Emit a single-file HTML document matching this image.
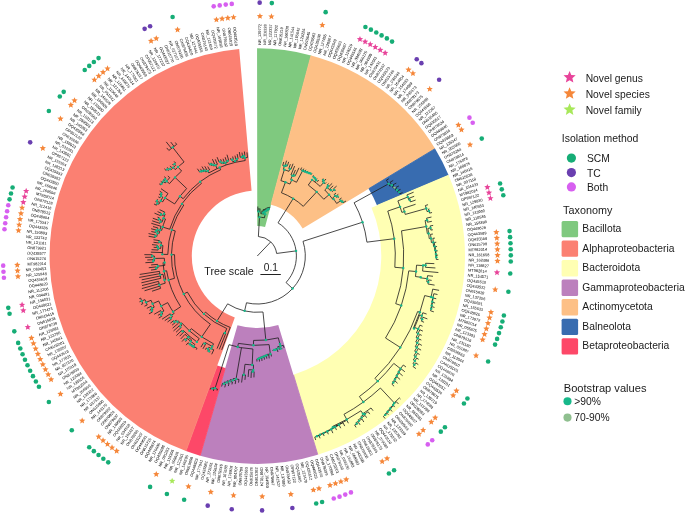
<!DOCTYPE html>
<html><head><meta charset="utf-8"><style>
html,body{margin:0;padding:0;background:#fff;}
body{width:685px;height:513px;overflow:hidden;position:relative;font-family:"Liberation Sans",Arial,sans-serif;}
svg{position:absolute;left:0;top:0;}
</style></head><body>
<svg width="685" height="513" viewBox="0 0 685 513" font-family="Liberation Sans, Arial, sans-serif">
<path d="M257.06 48.3A207.7 207.7 0 0 1 311.11 55.39L265.07 227.02A30 30 0 0 0 257.27 226Z" fill="#7fc97f"/>
<path d="M311.11 55.39A207.7 207.7 0 0 1 435.12 148.66L302.67 228.61A53 53 0 0 0 271.03 204.81Z" fill="#fdc086"/>
<path d="M435.12 148.66A207.7 207.7 0 0 1 448.64 175.21L377.06 205.43A130 130 0 0 0 368.6 188.82Z" fill="#386cb0"/>
<path d="M448.64 175.21A207.7 207.7 0 0 1 317.78 454.7L293.41 374.63A124 124 0 0 0 371.53 207.77Z" fill="#ffffb3"/>
<path d="M317.78 454.7A207.7 207.7 0 0 1 200.14 455.68L237.49 325.22A72 72 0 0 0 278.26 324.88Z" fill="#bc80bd"/>
<path d="M200.14 455.68A207.7 207.7 0 0 1 185.97 451.07L217.29 365.41A116.5 116.5 0 0 0 225.24 368Z" fill="#fd4868"/>
<path d="M185.97 451.07A207.7 207.7 0 0 1 239.19 49.09L251.59 190.75A65.5 65.5 0 0 0 234.81 317.52Z" fill="#fb8072"/>
<line x1="271.11" y1="204.52" x2="311.03" y2="55.68" stroke="#fdc086" stroke-width="0.9"/>
<line x1="368.85" y1="188.66" x2="434.86" y2="148.82" stroke="#386cb0" stroke-width="0.9"/>
<line x1="377.34" y1="205.32" x2="448.37" y2="175.32" stroke="#ffffb3" stroke-width="0.9"/>
<line x1="293.49" y1="374.91" x2="317.69" y2="454.41" stroke="#bc80bd" stroke-width="0.9"/>
<line x1="225.16" y1="368.29" x2="200.23" y2="455.39" stroke="#fd4868" stroke-width="0.9"/>
<line x1="217.19" y1="365.7" x2="186.07" y2="450.79" stroke="#fb8072" stroke-width="0.9"/>
<path fill="none" stroke="#1c1c1c" stroke-width="0.8" d="M257.3 256L270.75 241.88M258.39 236.53A19.5 19.5 0 0 1 276.63 253.45M258.39 236.53L259.47 217.16M258.39 217.12A38.9 38.9 0 0 1 264.46 217.76M258.39 217.12L258.54 211.52M257.78 211.5A44.5 44.5 0 0 1 259.91 211.58M257.78 211.5L257.84 206.5M258.85 211.53L258.97 208.03M259.91 211.58L260.09 208.58M264.46 217.76L265.12 214.23M260.81 213.64A42.5 42.5 0 0 1 265.12 214.23M260.81 213.64L260.99 211.47M262.81 213.86L262.94 212.87M261.93 212.75A43.5 43.5 0 0 1 263.96 213.01M261.93 212.75L262.17 210.42M263.96 213.01L264.11 212.02M263.09 211.88A44.5 44.5 0 0 1 265.13 212.19M263.09 211.88L263.46 209.02M265.13 212.19L265.3 211.21M264.3 211.04A45.5 45.5 0 0 1 266.31 211.4M264.3 211.04L264.63 208.87M266.31 211.4L266.5 210.42M265.55 210.24A46.5 46.5 0 0 1 267.46 210.62M265.55 210.24L265.95 208.01M267.46 210.62L267.67 209.65M266.84 209.47A47.5 47.5 0 0 1 268.5 209.84M266.84 209.47L267.32 207.14M268.5 209.84L268.74 208.87M268.18 208.74A48.5 48.5 0 0 1 269.3 209.01M268.18 208.74L268.57 207M269.3 209.01L269.86 206.81M276.63 253.45L296.07 250.9M278.02 222.84A39.1 39.1 0 0 1 286.04 282.52M278.02 222.84L293.18 198.59M281.45 192.75A67.7 67.7 0 0 1 303.3 206.33M281.45 192.75L285.48 182.2M280.92 180.62A79 79 0 0 1 289.94 184.06M280.92 180.62L284.33 169.74M283.32 169.43A90.4 90.4 0 0 1 288.96 171.32M283.32 169.43L284.36 165.98M282.74 165.51A94 94 0 0 1 285.97 166.48M282.74 165.51L283.74 161.93M285.97 166.48L286.26 165.57M285.17 165.23A94.95 94.95 0 0 1 287.34 165.92M285.17 165.23L286.58 160.66M287.34 165.92L288.7 161.82M288.96 171.32L289.87 168.89M288.82 168.51A93 93 0 0 1 290.91 169.28M288.82 168.51L290.38 164.19M290.91 169.28L293.06 163.73M289.94 184.06L291.79 179.96M290.71 179.47A83.5 83.5 0 0 1 296.49 182.27M290.71 179.47L292.39 175.62M290.94 175.01A87.7 87.7 0 0 1 293.82 176.27M290.94 175.01L294.63 166.12M293.82 176.27L294.2 175.44M293.23 175.01A88.61 88.61 0 0 1 295.16 175.89M293.23 175.01L295.48 169.95M295.16 175.89L298.97 167.83M296.49 182.27L302.6 170.79M300.61 169.76A96.5 96.5 0 0 1 304.56 171.86M300.61 169.76L301.73 167.53M304.56 171.86L304.76 171.52M302.85 170.47A96.9 96.9 0 0 1 306.64 172.6M302.85 170.47L303.84 168.62M306.64 172.6L306.84 172.26M305.08 171.24A97.3 97.3 0 0 1 308.58 173.31M305.08 171.24L305.91 169.76M308.58 173.31L308.8 172.97M307.3 172.06A97.7 97.7 0 0 1 310.28 173.91M307.3 172.06L307.96 170.95M310.28 173.91L310.49 173.57M309.5 172.94A98.1 98.1 0 0 1 311.48 174.22M309.5 172.94L309.98 172.18M311.48 174.22L311.97 173.47M303.3 206.33L316.68 191.87M308.3 185.02A87.4 87.4 0 0 1 323.76 199.24M308.3 185.02L312.04 179.83M312.04 179.83A93.8 93.8 0 0 1 320.17 186.39M314.8 181.89L316.15 180.15M314.55 178.94A96 96 0 0 1 317.72 181.4M314.55 178.94L315.05 178.25M313.65 177.23A96.85 96.85 0 0 1 316.44 179.3M313.65 177.23L313.74 177.11M312.79 176.44A97 97 0 0 1 314.68 177.79M312.79 176.44L313.57 175.32M314.68 177.79L315.15 177.14M316.44 179.3L317.02 178.55M317.72 181.4L318.73 180.15M320.17 186.39L323.66 182.53M322.33 181.35A99 99 0 0 1 324.97 183.74M322.33 181.35L323.31 180.23M322.4 179.44A100.49 100.49 0 0 1 324.21 181.02M322.4 179.44L323.18 178.52M324.21 181.02L326.03 178.98M324.97 183.74L326.16 182.46M323.76 199.24L329.08 194.69M324.75 189.95A94.4 94.4 0 0 1 332.99 199.58M324.75 189.95L327.32 187.43M326.81 186.91A98 98 0 0 1 330.42 190.75M326.81 186.91L327.99 185.74M327.15 184.9A99.67 99.67 0 0 1 328.83 186.59M327.15 184.9L328.53 183.49M328.83 186.59L332.16 183.35M330.42 190.75L331.16 190.1M329.96 188.79A98.98 98.98 0 0 1 332.33 191.44M329.96 188.79L333.23 185.76M332.33 191.44L334.17 189.85M333.37 188.94A101.41 101.41 0 0 1 334.95 190.78M333.37 188.94L336.62 186.08M334.95 190.78L335.57 190.26M332.99 199.58L333.63 199.11M332.7 197.88A95.2 95.2 0 0 1 336.67 203.43M332.7 197.88L335.31 195.86M334.22 194.47A98.5 98.5 0 0 1 336.38 197.27M334.22 194.47L336.01 193.04M336.38 197.27L337.53 196.41M336.81 195.46A99.94 99.94 0 0 1 338.24 197.38M336.81 195.46L338.32 194.31M338.24 197.38L338.89 196.91M336.67 203.43L340.67 200.78M339.67 199.3A100 100 0 0 1 341.65 202.29M339.67 199.3L341.56 197.99M341.65 202.29L342.45 201.78M341.8 200.76A100.95 100.95 0 0 1 343.09 202.8M341.8 200.76L342.53 200.28M343.09 202.8L345.99 201.01M286.04 282.52L292.58 288.55M303 241.33A48 48 0 0 1 246.5 302.77M303 241.33L362.51 222.22M354.13 202.77A110.5 110.5 0 0 1 366.93 242.15M354.13 202.77L388.57 183.83M386.46 180.13A149.8 149.8 0 0 1 389.84 186.19M386.46 180.13L388.79 178.76M389.84 186.19L391.79 185.17M390.16 182.17A152 152 0 0 1 393.34 188.2M390.16 182.17L393.22 180.47M393.34 188.2L394.51 187.62M393.04 184.76A153.3 153.3 0 0 1 395.91 190.51M393.04 184.76L396.32 183.05M395.91 190.51L396.99 190M395.78 187.5A154.5 154.5 0 0 1 398.15 192.51M395.78 187.5L398.92 185.95M398.15 192.51L399.07 192.1M398.29 190.41A155.5 155.5 0 0 1 399.82 193.8M398.29 190.41L400.56 189.36M399.82 193.8L402.57 192.6M366.93 242.15L394.21 238.7M387.78 211.07A138 138 0 0 1 394.84 267.31M387.78 211.07L400.07 206.84M397.89 200.9A151 151 0 0 1 401.86 212.36M397.89 200.9L407.76 197.04M406.91 194.93A161.6 161.6 0 0 1 409.01 200.33M406.91 194.93L413.61 192.19M409.01 200.33L409.78 200.05M409.1 198.23A162.42 162.42 0 0 1 410.44 201.88M409.1 198.23L414.18 196.3M410.44 201.88L415.65 200.04M401.86 212.36L404.44 211.58M403.4 208.27A153.7 153.7 0 0 1 405.27 214.42M403.4 208.27L415.57 204.29M405.27 214.42L426.26 208.53M425.38 205.5A175.5 175.5 0 0 1 427.08 211.57M425.38 205.5L428.02 204.71M427.08 211.57L429.06 211.05M428.51 209A177.54 177.54 0 0 1 429.59 213.11M428.51 209L429.28 208.79M429.59 213.11L432.04 212.5M394.84 267.31L403.21 268M401.52 230.83A146.4 146.4 0 0 1 395.72 303.66M401.52 230.83L426.25 226.51M425.1 220.57A171.5 171.5 0 0 1 427.34 233.68M425.1 220.57L427.06 220.15M426.62 218.12A173.5 173.5 0 0 1 427.47 222.19M426.62 218.12L431.46 217.04M427.47 222.19L431.84 221.32M427.34 233.68L428.63 233.51M427.89 228.43A172.8 172.8 0 0 1 429.22 238.61M427.89 228.43L430.55 227.99M430.2 225.92A175.5 175.5 0 0 1 430.87 230.07M430.2 225.92L433.16 225.41M430.87 230.07L432.85 229.77M429.22 238.61L431.01 238.43M430.55 234.34A174.6 174.6 0 0 1 431.38 242.52M430.55 234.34L432.93 234.04M431.38 242.52L433.27 242.38M432.91 238.3A176.5 176.5 0 0 1 433.54 246.46M432.91 238.3L434.9 238.1M433.54 246.46L434.64 246.4M434.38 242.42A177.6 177.6 0 0 1 434.81 250.38M434.38 242.42L436.27 242.28M434.81 250.38L435.41 250.36M435.25 246.63A178.2 178.2 0 0 1 435.49 254.09M435.25 246.63L437.05 246.54M435.49 254.09L435.89 254.09M435.83 250.88A178.6 178.6 0 0 1 435.9 257.29M435.83 250.88L437.73 250.83M435.9 257.29L436.3 257.29M436.3 255.15A179 179 0 0 1 436.27 259.43M436.3 255.15L438.1 255.14M436.27 259.43L438.47 259.48M395.72 303.66L401.21 305.55M408.77 270.85A152.2 152.2 0 0 1 385.52 338M408.77 270.85L416.04 271.56M416.54 265.18A159.5 159.5 0 0 1 415.47 276.54M416.54 265.18L423.02 265.56M423.05 265.14A166 166 0 0 1 422.61 271.08M423.05 265.14L425.54 265.28M425.64 263.26A168.5 168.5 0 0 1 425.42 267.29M425.64 263.26L434.29 263.64M425.42 267.29L435.4 267.96M422.61 271.08L438.36 272.52M415.47 276.54L420.73 277.23M420.73 277.23A164.8 164.8 0 0 1 420.65 277.83M420.65 277.83L427.19 278.7M427.57 275.65A171.4 171.4 0 0 1 426.76 281.75M427.57 275.65L433.01 276.28M426.76 281.75L428.29 281.98M428.59 279.93A172.95 172.95 0 0 1 427.97 284.02M428.59 279.93L431.66 280.36M427.97 284.02L434.59 285.11M385.52 338L400.26 347.43M417.66 311.53A169.7 169.7 0 0 1 374.97 378.28M417.66 311.53L419.83 312.28M424.69 295.57A172 172 0 0 1 413.44 328.15M424.69 295.57L431.01 297.06M432.7 289.13A178.5 178.5 0 0 1 430.98 297.22M432.7 289.13L439.09 290.33M430.98 297.22L432.92 297.68M433.81 293.73A180.5 180.5 0 0 1 431.94 301.61M433.81 293.73L437.47 294.52M431.94 301.61L432.33 301.71M433.25 298.04A180.9 180.9 0 0 1 431.33 305.37M433.25 298.04L436.24 298.75M431.33 305.37L431.72 305.48M432.58 302.34A181.3 181.3 0 0 1 430.8 308.6M432.58 302.34L435.1 303.01M430.8 308.6L431.19 308.71M431.8 306.63A181.7 181.7 0 0 1 430.54 310.79M431.8 306.63L434.51 307.41M430.54 310.79L433.84 311.83M413.44 328.15L414.07 328.44M419.64 314.92A172.7 172.7 0 0 1 414.07 328.44M419.64 314.92L421.8 315.71M422.84 312.75A175 175 0 0 1 420.7 318.65M422.84 312.75L426.62 314.04M420.7 318.65L422.17 319.21M422.91 317.24A176.57 176.57 0 0 1 421.4 321.18M422.91 317.24L427.38 318.89M421.4 321.18L424.06 322.24M414.57 327.35L418.22 329M419.91 325.14A176.7 176.7 0 0 1 416.43 332.82M419.91 325.14L422.55 326.26M416.43 332.82L418.05 333.61M419.85 329.75A178.5 178.5 0 0 1 416.15 337.41M419.85 329.75L422.86 331.12M416.15 337.41L417.75 338.23M419.66 334.4A180.3 180.3 0 0 1 415.76 342.02M419.66 334.4L421.71 335.39M415.76 342.02L417.34 342.88M419.34 339.09A182.1 182.1 0 0 1 415.25 346.62M419.34 339.09L421.33 340.1M415.25 346.62L416.81 347.52M418.89 343.8A183.9 183.9 0 0 1 414.65 351.19M418.89 343.8L421.84 345.4M414.65 351.19L416.19 352.12M418.3 348.54A185.7 185.7 0 0 1 413.99 355.66M418.3 348.54L421.1 350.14M413.99 355.66L415.51 356.63M417.58 353.3A187.5 187.5 0 0 1 413.37 359.92M417.58 353.3L419.61 354.53M413.37 359.92L414.87 360.92M416.72 358.07A189.3 189.3 0 0 1 412.96 363.73M416.72 358.07L418.65 359.31M412.96 363.73L414.44 364.75M415.73 362.86A191.1 191.1 0 0 1 413.13 366.62M415.73 362.86L418.3 364.6M413.13 366.62L415.91 368.6M374.97 378.28L377.74 381.16M393.8 363.42A173.7 173.7 0 0 1 359.4 396.53M393.8 363.42L400.48 368.67M403.3 365A182.2 182.2 0 0 1 398.09 371.65M403.3 365L405.94 366.97M398.09 371.65L398.79 372.22M401.36 369.01A183.1 183.1 0 0 1 396.15 375.36M401.36 369.01L404.84 371.75M396.15 375.36L396.83 375.95M399.31 373A184 184 0 0 1 394.29 378.84M399.31 373L402.65 375.75M394.29 378.84L394.96 379.44M397.15 376.95A184.9 184.9 0 0 1 392.72 381.89M397.15 376.95L400.11 379.51M392.72 381.89L393.38 382.51M394.88 380.87A185.8 185.8 0 0 1 391.86 384.12M394.88 380.87L397.57 383.31M391.86 384.12L394.14 386.3M359.4 396.53L363.4 402.03M380.4 388.01A180.5 180.5 0 0 1 343.98 414.32M380.4 388.01L394.25 402.86M399.37 397.91A200.8 200.8 0 0 1 392.64 404.34M399.37 397.91L400.47 399.01M392.64 404.34L393.18 404.93M396.48 401.85A201.6 201.6 0 0 1 389.8 407.94M396.48 401.85L398.51 403.98M389.8 407.94L390.33 408.54M393.49 405.73A202.4 202.4 0 0 1 387.1 411.29M393.49 405.73L394.74 407.1M387.1 411.29L387.62 411.91M390.39 409.55A203.2 203.2 0 0 1 384.8 414.22M390.39 409.55L392.07 411.48M384.8 414.22L385.3 414.84M387.19 413.3A204 204 0 0 1 383.39 416.36M387.19 413.3L388.39 414.76M383.39 416.36L385.08 418.52M343.98 414.32L346.77 419.41M360.94 410.81A186.3 186.3 0 0 1 332.48 426.46M360.94 410.81L362.88 413.72M371.01 407.97A189.8 189.8 0 0 1 362.88 413.72M371.01 407.97L373.05 410.68M363.85 413.07L364.58 414.15M368.1 411.7A191.1 191.1 0 0 1 361 416.51M368.1 411.7L369.8 414.1M361 416.51L361.71 417.61M365.07 415.39A192.4 192.4 0 0 1 358.3 419.76M365.07 415.39L366.62 417.67M358.3 419.76L358.98 420.86M361.93 419.01A193.7 193.7 0 0 1 356.01 422.66M361.93 419.01L363.86 422.03M356.01 422.66L356.67 423.78M358.67 422.58A195 195 0 0 1 354.66 424.96M358.67 422.58L360.03 424.8M354.66 424.96L356.08 427.42M332.48 426.46L332.8 427.19M346.81 420.3A187.1 187.1 0 0 1 332.8 427.19M346.81 420.3L348.41 423.23M338.88 424.38L339.05 424.74M343.04 422.75A187.5 187.5 0 0 1 335.02 426.63M343.04 422.75L344.76 426.11M335.02 426.63L335.19 427M339.2 425.11A187.9 187.9 0 0 1 331.14 428.78M339.2 425.11L340.69 428.19M331.14 428.78L331.3 429.15M335.29 427.39A188.3 188.3 0 0 1 327.27 430.82M335.29 427.39L336.5 430.05M327.27 430.82L327.41 431.19M331.33 429.57A188.7 188.7 0 0 1 323.47 432.72M331.33 429.57L332.85 433.14M323.47 432.72L323.61 433.09M327.3 431.67A189.1 189.1 0 0 1 319.89 434.44M327.3 431.67L328.34 434.27M319.89 434.44L320.02 434.82M323.22 433.67A189.5 189.5 0 0 1 316.8 435.92M323.22 433.67L324.1 436.03M316.8 435.92L316.92 436.3M319.08 435.57A189.9 189.9 0 0 1 314.76 437M319.08 435.57L320.02 438.32M314.76 437L315.72 440.02M246.5 302.77L244.64 310.86M262.99 312.01A56.3 56.3 0 0 1 227.63 303.85M262.99 312.01L265.84 340.07M278.31 337.85A84.5 84.5 0 0 1 253.61 340.42M278.31 337.85L279.86 343.85M279.92 343.83A90.7 90.7 0 0 1 279.86 343.85M279.92 343.83L280.5 346.06M283.31 345.29A93 93 0 0 1 277.66 346.74M283.31 345.29L284.05 347.81M277.66 346.74L278.03 348.41M280.51 347.81A94.7 94.7 0 0 1 275.54 348.93M280.51 347.81L280.71 348.59M281.81 348.3A95.5 95.5 0 0 1 279.6 348.86M281.81 348.3L282.02 349.07M279.6 348.86L279.78 349.64M275.54 348.93L275.69 349.71M277.37 349.37A95.5 95.5 0 0 1 274 350.03M277.37 349.37L277.93 352M274 350.03L274 350.03M275.13 349.82A95.5 95.5 0 0 1 272.88 350.22M275.13 349.82L275.28 350.61M272.88 350.22L273.01 351.01M253.61 340.42L253.4 345.31M269.12 344.61A89.4 89.4 0 0 1 238.41 343.38M269.12 344.61L270.38 354.03M271.09 353.93A98.9 98.9 0 0 1 266.47 354.47M271.09 353.93L271.45 356.46M266.47 354.47L266.54 355.27M268.84 355.03A99.7 99.7 0 0 1 264.24 355.46M268.84 355.03L269.23 358.4M264.24 355.46L264.29 356.26M266.54 356.07A100.5 100.5 0 0 1 262.04 356.39M266.54 356.07L266.78 358.68M262.04 356.39L262.08 357.19M264.2 357.06A101.3 101.3 0 0 1 259.96 357.27M264.2 357.06L264.38 359.66M259.96 357.27L259.98 358.06M261.81 358A102.1 102.1 0 0 1 258.15 358.1M261.81 358L261.95 360.96M258.15 358.1L258.16 358.9M259.39 358.88A102.9 102.9 0 0 1 256.93 358.9M259.39 358.88L259.44 361.58M256.93 358.9L256.92 361.51M238.41 343.38L237.63 347M252.91 349A93.1 93.1 0 0 1 228.99 344.69M252.91 349L252.17 364.88M253.5 364.93A109 109 0 0 1 244.96 364.3M253.5 364.93L253.32 369.93M253.32 369.93A114 114 0 0 1 248.71 369.68M252.8 369.91L252.73 371.64M254.11 371.68A115.73 115.73 0 0 1 251.34 371.58M254.11 371.68L253.95 377.4M251.34 371.58L251.02 377.94M248.71 369.68L248.16 376.97M244.96 364.3L243.77 374.73M245.45 374.91A119.5 119.5 0 0 1 242.61 374.59M245.45 374.91L244.95 379.89M242.61 374.59L241.62 382.53M241.45 347.74L236.06 378.98M239 379.45A124.8 124.8 0 0 1 233.3 378.47M239 379.45L238.53 382.61M233.3 378.47L232.95 380.24M235.74 380.75A126.6 126.6 0 0 1 230.17 379.66M235.74 380.75L235.17 384.07M230.17 379.66L229.78 381.42M232.42 381.97A128.4 128.4 0 0 1 227.16 380.81M232.42 381.97L231.93 384.45M227.16 380.81L226.74 382.56M229.02 383.09A130.2 130.2 0 0 1 224.48 381.99M229.02 383.09L228.36 386.05M224.48 381.99L224.02 383.74M225.55 384.13A132 132 0 0 1 222.5 383.33M225.55 384.13L224.75 387.38M222.5 383.33L221.62 386.52M228.99 344.69L215.07 388.32M217.48 389.07A138.9 138.9 0 0 1 212.73 387.56M217.48 389.07L217.02 390.6M212.73 387.56L212.38 388.6M213.97 389.13A140 140 0 0 1 210.8 388.05M213.97 389.13L213.35 391.03M210.8 388.05L210.3 389.47M227.63 303.85L217.04 320.93M230.21 327.43A76.4 76.4 0 0 1 205.49 312.15M230.21 327.43L221.69 349.87M205.49 312.15L203.93 313.84M226.77 328.54A78.7 78.7 0 0 1 187.37 292.1M226.77 328.54L224.87 333.05M225.79 333.43A83.6 83.6 0 0 1 223.95 332.66M225.79 333.43L219.31 349.37M223.95 332.66L217.01 348.61M187.37 292.1L183.72 293.98M210.4 324.24A82.8 82.8 0 0 1 174.51 254.7M210.4 324.24L201.74 336.85M213.53 343.79A98.1 98.1 0 0 1 191.4 328.67M213.53 343.79L212.23 346.39M212.35 346.45A101 101 0 0 1 205.2 342.53M212.35 346.45L211.28 348.6M213.79 349.81A103.41 103.41 0 0 1 208.8 347.33M213.79 349.81L211.7 354.3M208.8 347.33L207.93 348.97M209.61 349.84A105.27 105.27 0 0 1 206.27 348.07M209.61 349.84L208.95 351.13M210.09 351.7A106.71 106.71 0 0 1 207.82 350.55M210.09 351.7L209.74 352.42M207.82 350.55L207.45 351.26M206.27 348.07L205.42 349.61M205.2 342.53L204.56 343.59M205.61 344.21A102.24 102.24 0 0 1 203.52 342.95M205.61 344.21L202.91 348.82M203.52 342.95L200.93 347.13M191.4 328.67L189.46 330.82M199.22 338.63A101 101 0 0 1 181.66 322.92M199.22 338.63L196.92 341.91M196.92 341.91A105 105 0 0 1 183.36 330.55M189.35 336.05L188.35 337.23M191.77 340.02A106.55 106.55 0 0 1 185.03 334.3M191.77 340.02L190.72 341.37M194.81 344.42A108.27 108.27 0 0 1 186.77 338.14M194.81 344.42L193.61 346.11M197.03 348.43A110.34 110.34 0 0 1 190.29 343.67M197.03 348.43L196.23 349.65M190.29 343.67L189.89 344.19M191.75 345.58A111 111 0 0 1 188.06 342.76M191.75 345.58L191.75 345.58M193.37 346.74A111 111 0 0 1 190.16 344.39M193.37 346.74L193.37 346.74M194.46 347.5A111 111 0 0 1 192.29 345.97M194.46 347.5L194.01 348.16M192.29 345.97L191.82 346.62M190.16 344.39L189.67 345.03M188.06 342.76L186.17 345.12M186.77 338.14L185.52 339.6M186.52 340.46A110.19 110.19 0 0 1 184.52 338.74M186.52 340.46L185.55 341.62M184.52 338.74L182.03 341.57M185.03 334.3L180.78 338.91M183.36 330.55L182.56 331.36M183.47 332.25A106.14 106.14 0 0 1 181.67 330.46M183.47 332.25L179.63 336.21M181.67 330.46L176.4 335.65M181.66 322.92L180.76 323.72M181.95 325.04A102.2 102.2 0 0 1 178.34 320.89M181.95 325.04L180.25 326.59M181.1 327.51A104.5 104.5 0 0 1 179.41 325.66M181.1 327.51L176.05 332.25M179.41 325.66L173.51 330.94M178.34 320.89L177.31 321.73M178.5 323.16A103.54 103.54 0 0 1 176.14 320.29M178.5 323.16L172.63 328.16M176.14 320.29L174.32 321.73M175.11 322.72A105.86 105.86 0 0 1 173.54 320.73M175.11 322.72L172.13 325.14M173.54 320.73L170.4 323.16M174.51 254.7L171.51 254.65M174.46 278.35A85.8 85.8 0 0 1 175.25 230.91M174.46 278.35L168.57 279.94M180.67 306.72A91.9 91.9 0 0 1 166.6 270.77M180.67 306.72L173.08 311.75M174.18 313.37A101 101 0 0 1 167.71 302.64M174.18 313.37L171.3 315.36M172.38 316.89A104.5 104.5 0 0 1 170.24 313.81M172.38 316.89L170.59 318.17M171.34 319.21A106.7 106.7 0 0 1 169.85 317.13M171.34 319.21L167.51 322.02M169.85 317.13L164.78 320.68M170.24 313.81L162.06 319.24M167.71 302.64L161.15 306.06M163.9 311.02A108.4 108.4 0 0 1 158.66 300.96M163.9 311.02L161.66 312.34M162.69 314.04A111 111 0 0 1 160.66 310.61M162.69 314.04L161.1 315.02M161.81 316.17A112.86 112.86 0 0 1 160.4 313.86M161.81 316.17L158.75 318.09M160.4 313.86L157.91 315.35M160.66 310.61L154.2 314.27M158.66 300.96L152.57 303.74M154.19 307.16A115.1 115.1 0 0 1 151.05 300.27M154.19 307.16L152.04 308.22M153 310.1A117.5 117.5 0 0 1 151.12 306.33M153 310.1L151.8 310.72M152.47 311.98A118.84 118.84 0 0 1 151.16 309.46M152.47 311.98L148.96 313.85M151.16 309.46L149.58 310.25M151.12 306.33L146.86 308.34M151.05 300.27L146.07 302.34M147.21 304.99A120.5 120.5 0 0 1 144.99 299.67M147.21 304.99L144.47 306.21M144.99 299.67L141.73 300.94M142.84 303.69A124 124 0 0 1 140.69 298.16M142.84 303.69L140.99 304.46M141.73 300.94L139.4 301.84M140.69 298.16L139.28 298.67M166.6 270.77L164.03 271.19M165.81 279.66A94.5 94.5 0 0 1 163.03 262.59M165.81 279.66L164.36 280.04M165.23 283.18A96 96 0 0 1 163.05 274.26M165.23 283.18L159.47 284.88M160.57 288.37A102 102 0 0 1 158.5 281.35M160.57 288.37L152.04 291.23M159.83 286.05L144.54 290.76M159.14 283.71L141.81 288.6M158.5 281.35L142.03 285.58M163.05 274.26L160.11 274.83M160.85 278.31A99 99 0 0 1 159.49 271.33M160.85 278.31L141.36 282.81M160.34 275.99L141.73 279.83M159.89 273.67L139.23 277.41M159.49 271.33L139.74 274.43M163.03 262.59L164.53 262.49M164.78 265.44A93 93 0 0 1 164.33 258.22M164.78 265.44L157.82 266.15M158.01 267.93A100 100 0 0 1 157.65 264.36M158.01 267.93L156.26 268.14M156.41 269.35A101.77 101.77 0 0 1 156.12 266.93M156.41 269.35L150.99 270.07M156.12 266.93L148.77 267.73M157.65 264.36L151.13 264.91M164.33 258.22L154.33 258.46M154.42 260.92A103 103 0 0 1 154.3 256M154.42 260.92L153.3 260.98M153.36 262.22A104.12 104.12 0 0 1 153.24 259.73M153.36 262.22L145.42 262.7M153.24 259.73L147.31 259.95M154.3 256L152.18 256M152.18 257.25A105.12 105.12 0 0 1 152.18 254.74M152.18 257.25L145.12 257.34M152.18 254.74L144.37 254.65M175.25 230.91L171.71 229.83M167.81 254.44A89.5 89.5 0 0 1 183.72 205.05M167.81 254.44L162.31 254.34M162.31 254.34A95 95 0 0 1 162.88 245.51M162.36 252.59L150.85 252.17M162.88 245.51L160.98 245.29M160.68 248.47A96.91 96.91 0 0 1 161.38 242.13M160.68 248.47L158.26 248.28M158.13 250.06A99.34 99.34 0 0 1 158.41 246.5M158.13 250.06L151.59 249.67M158.41 246.5L157.31 246.4M157.21 247.59A100.45 100.45 0 0 1 157.44 245.2M157.21 247.59L153.62 247.29M157.44 245.2L152.02 244.62M161.38 242.13L159.39 241.84M159.23 243.02A98.93 98.93 0 0 1 159.57 240.67M159.23 243.02L153.49 242.26M159.57 240.67L153.48 239.72M183.72 205.05L181.99 203.85M169.7 229.22A91.6 91.6 0 0 1 201.41 183.43M169.7 229.22L162.63 227.06M161.67 230.38A99 99 0 0 1 165.47 219.02M161.67 230.38L160.01 229.94M159.11 233.59A100.72 100.72 0 0 1 161.05 226.32M159.11 233.59L157.5 233.23M156.8 236.52A102.37 102.37 0 0 1 158.3 229.96M156.8 236.52L155.36 236.24M155.13 237.46A103.84 103.84 0 0 1 155.6 235.02M155.13 237.46L148.61 236.28M155.6 235.02L148.56 233.57M158.3 229.96L157.38 229.71M156.93 231.51A103.32 103.32 0 0 1 157.87 227.93M156.93 231.51L155.94 231.27M155.65 232.48A104.34 104.34 0 0 1 156.24 230.06M155.65 232.48L151.33 231.49M156.24 230.06L151.11 228.74M157.87 227.93L152.99 226.55M161.05 226.32L151.33 223.32M165.47 219.02L163.47 218.21M161.97 222.17A101.15 101.15 0 0 1 165.13 214.32M161.97 222.17L160.47 221.64M159.87 223.38A102.74 102.74 0 0 1 161.1 219.91M159.87 223.38L152.2 220.82M161.1 219.91L159.09 219.15M158.65 220.33A104.9 104.9 0 0 1 159.53 217.98M158.65 220.33L152.8 218.21M159.53 217.98L157.47 217.18M165.13 214.32L164.03 213.82M163.29 215.5A102.37 102.37 0 0 1 164.8 212.15M163.29 215.5L161.02 214.52M160.53 215.68A104.83 104.83 0 0 1 161.52 213.37M160.53 215.68L154.48 213.16M161.52 213.37L157.55 211.6M164.8 212.15L159.62 209.69M201.41 183.43L200.13 181.76M183.16 198.7A93.7 93.7 0 0 1 220.69 169.75M183.16 198.7L180 196.25M174.63 203.94A97.7 97.7 0 0 1 186.67 188.5M174.63 203.94L165.06 197.92M162.73 201.8A109 109 0 0 1 167.97 193.54M162.73 201.8L160.78 200.68M158.85 204.18A111.25 111.25 0 0 1 162.82 197.25M158.85 204.18L157.39 203.4M156.46 205.21A112.91 112.91 0 0 1 158.34 201.62M156.46 205.21L153.97 203.95M158.34 201.62L156.95 200.86M156.3 202.06A114.5 114.5 0 0 1 157.62 199.66M156.3 202.06L155.46 201.61M157.62 199.66L156.92 199.27M162.82 197.25L160.97 196.1M159.92 197.84A113.43 113.43 0 0 1 162.07 194.38M159.92 197.84L158.31 196.88M162.07 194.38L161.17 193.8M160.43 194.96A114.5 114.5 0 0 1 161.92 192.66M160.43 194.96L158.95 194.02M161.92 192.66L159.7 191.18M167.97 193.54L161 188.67M186.67 188.5L175.03 177.38M169.49 183.61A113.8 113.8 0 0 1 181.6 171.03M169.49 183.61L166.63 181.26M165.2 183.04A117.5 117.5 0 0 1 169.73 177.66M165.2 183.04L163.31 181.54M161.56 183.81A119.91 119.91 0 0 1 165.12 179.31M161.56 183.81L161.48 183.76M160.63 184.91A120 120 0 0 1 162.36 182.61M160.63 184.91L159.21 183.87M162.36 182.61L160.75 181.37M165.12 179.31L165.05 179.25M164.14 180.36A120 120 0 0 1 165.97 178.16M164.14 180.36L163.18 179.59M165.97 178.16L164.21 176.65M169.73 177.66L167.82 175.96M181.6 171.03L178 167M175.16 169.62A119.2 119.2 0 0 1 184.07 161.95M175.16 169.62L173.23 167.59M170.88 169.89A122 122 0 0 1 175.64 165.36M170.88 169.89L169.94 168.95M168.39 170.53A123.33 123.33 0 0 1 171.51 167.39M168.39 170.53L167.19 169.37M166.16 170.46A125 125 0 0 1 168.23 168.3M166.16 170.46L164.35 168.76M168.23 168.3L167.21 167.29M171.51 167.39L170.04 165.87M175.64 165.36L174.48 164.08M173.39 165.08A123.73 123.73 0 0 1 175.59 163.09M173.39 165.08L172.46 164.07M175.59 163.09L174.09 161.39M184.07 161.95L172.71 147.35M168.86 150.45A137.7 137.7 0 0 1 176.66 144.38M168.86 150.45L166.74 147.92M171.41 148.37L166.23 141.88M174.01 146.34L170.81 142.12M176.66 144.38L175.31 142.52M220.69 169.75L219.71 167.45M208.8 172.92A96.2 96.2 0 0 1 245.19 160.56M208.8 172.92L207.64 170.94M205.74 172.07A98.5 98.5 0 0 1 209.56 169.84M205.74 172.07L204.85 170.61M203.07 171.73A100.21 100.21 0 0 1 206.64 169.53M203.07 171.73L202.63 171.05M201.12 172.05A101.02 101.02 0 0 1 204.16 170.08M201.12 172.05L200.64 171.34M199.64 172.03A101.87 101.87 0 0 1 201.66 170.67M199.64 172.03L197.37 168.72M201.66 170.67L200.46 168.83M204.16 170.08L201.96 166.52M206.64 169.53L204.75 166.3M209.56 169.84L207.73 166.55M217.09 168.61L215.5 165.16M213.61 166.05A100 100 0 0 1 217.41 164.3M213.61 166.05L212.92 164.63M211.28 165.44A101.58 101.58 0 0 1 214.56 163.85M211.28 165.44L210.71 164.32M209.62 164.88A102.84 102.84 0 0 1 211.81 163.77M209.62 164.88L208.44 162.62M211.81 163.77L211.3 162.72M214.56 163.85L212.38 159.15M217.41 164.3L215.25 159.34M226.17 164.98L225.42 162.8M222.93 163.69A98.5 98.5 0 0 1 227.94 161.98M222.93 163.69L222.58 162.77M220.91 163.41A99.48 99.48 0 0 1 224.26 162.16M220.91 163.41L220.24 161.69M219.11 162.14A101.34 101.34 0 0 1 221.37 161.25M219.11 162.14L217.09 157.17M221.37 161.25L220.59 159.21M224.26 162.16L223.06 158.76M227.94 161.98L227.61 160.9M226.47 161.26A99.63 99.63 0 0 1 228.75 160.55M226.47 161.26L225.15 157.19M228.75 160.55L226.99 154.69M235.29 162.35L234.99 161.09M232.73 161.65A97.5 97.5 0 0 1 237.27 160.58M232.73 161.65L232.21 159.68M231.06 159.99A99.53 99.53 0 0 1 233.37 159.39M231.06 159.99L230.55 158.11M233.37 159.39L232.65 156.51M237.27 160.58L236.93 158.97M235.77 159.22A99.15 99.15 0 0 1 238.09 158.73M235.77 159.22L234.97 155.62M238.09 158.73L237.17 154.06M245.19 160.56L244.84 157.79M242.2 158.16A99 99 0 0 1 247.49 157.49M242.2 158.16L242.01 156.95M240.24 157.24A100.23 100.23 0 0 1 243.79 156.69M240.24 157.24L239.34 152.02M243.79 156.69L243.68 155.86M242.48 156.03A101.07 101.07 0 0 1 244.88 155.7M242.48 156.03L241.98 152.6M244.88 155.7L244.36 151.5M247.49 157.49L246.98 152.36"/>
<g fill="#17b88a"><circle cx="258.54" cy="211.52" r="1.2"/><circle cx="268.74" cy="208.87" r="1.2"/><circle cx="267.67" cy="209.65" r="1.2"/><circle cx="266.5" cy="210.42" r="1.2"/><circle cx="265.3" cy="211.21" r="1.2"/><circle cx="264.11" cy="212.02" r="1.2"/><circle cx="262.94" cy="212.87" r="1.2"/><circle cx="265.12" cy="214.23" r="1.2"/><circle cx="259.47" cy="217.16" r="1.2"/><circle cx="286.26" cy="165.57" r="1.2"/><circle cx="284.36" cy="165.98" r="1.2"/><circle cx="289.87" cy="168.89" r="1.2"/><circle cx="284.33" cy="169.74" r="1.2"/><circle cx="294.2" cy="175.44" r="1.2"/><circle cx="292.39" cy="175.62" r="1.2"/><circle cx="310.49" cy="173.57" r="1.2"/><circle cx="308.8" cy="172.97" r="1.2"/><circle cx="306.84" cy="172.26" r="1.2"/><circle cx="304.76" cy="171.52" r="1.2"/><circle cx="302.6" cy="170.79" r="1.2"/><circle cx="291.79" cy="179.96" r="1.2"/><circle cx="285.48" cy="182.2" r="1.2"/><circle cx="313.74" cy="177.11" r="1.2"/><circle cx="315.05" cy="178.25" r="1.2"/><circle cx="316.15" cy="180.15" r="1.2"/><circle cx="323.31" cy="180.23" r="1.2"/><circle cx="323.66" cy="182.53" r="1.2"/><circle cx="312.04" cy="179.83" r="1.2"/><circle cx="327.99" cy="185.74" r="1.2"/><circle cx="334.17" cy="189.85" r="1.2"/><circle cx="331.16" cy="190.1" r="1.2"/><circle cx="327.32" cy="187.43" r="1.2"/><circle cx="337.53" cy="196.41" r="1.2"/><circle cx="335.31" cy="195.86" r="1.2"/><circle cx="342.45" cy="201.78" r="1.2"/><circle cx="340.67" cy="200.78" r="1.2"/><circle cx="333.63" cy="199.11" r="1.2"/><circle cx="329.08" cy="194.69" r="1.2"/><circle cx="316.68" cy="191.87" r="1.2"/><circle cx="293.18" cy="198.59" r="1.2"/><circle cx="399.07" cy="192.1" r="1.2"/><circle cx="396.99" cy="190" r="1.2"/><circle cx="391.79" cy="185.17" r="1.2"/><circle cx="388.57" cy="183.83" r="1.2"/><circle cx="409.78" cy="200.05" r="1.2"/><circle cx="407.76" cy="197.04" r="1.2"/><circle cx="429.06" cy="211.05" r="1.2"/><circle cx="426.26" cy="208.53" r="1.2"/><circle cx="404.44" cy="211.58" r="1.2"/><circle cx="400.07" cy="206.84" r="1.2"/><circle cx="427.06" cy="220.15" r="1.2"/><circle cx="430.55" cy="227.99" r="1.2"/><circle cx="436.3" cy="257.29" r="1.2"/><circle cx="435.89" cy="254.09" r="1.2"/><circle cx="435.41" cy="250.36" r="1.2"/><circle cx="434.64" cy="246.4" r="1.2"/><circle cx="433.27" cy="242.38" r="1.2"/><circle cx="431.01" cy="238.43" r="1.2"/><circle cx="428.63" cy="233.51" r="1.2"/><circle cx="426.25" cy="226.51" r="1.2"/><circle cx="425.54" cy="265.28" r="1.2"/><circle cx="423.02" cy="265.56" r="1.2"/><circle cx="428.29" cy="281.98" r="1.2"/><circle cx="427.19" cy="278.7" r="1.2"/><circle cx="420.73" cy="277.23" r="1.2"/><circle cx="416.04" cy="271.56" r="1.2"/><circle cx="431.19" cy="308.71" r="1.2"/><circle cx="431.72" cy="305.48" r="1.2"/><circle cx="432.33" cy="301.71" r="1.2"/><circle cx="432.92" cy="297.68" r="1.2"/><circle cx="431.01" cy="297.06" r="1.2"/><circle cx="422.17" cy="319.21" r="1.2"/><circle cx="421.8" cy="315.71" r="1.2"/><circle cx="414.44" cy="364.75" r="1.2"/><circle cx="414.87" cy="360.92" r="1.2"/><circle cx="415.51" cy="356.63" r="1.2"/><circle cx="416.19" cy="352.12" r="1.2"/><circle cx="416.81" cy="347.52" r="1.2"/><circle cx="417.34" cy="342.88" r="1.2"/><circle cx="417.75" cy="338.23" r="1.2"/><circle cx="418.05" cy="333.61" r="1.2"/><circle cx="418.22" cy="329" r="1.2"/><circle cx="414.07" cy="328.44" r="1.2"/><circle cx="419.83" cy="312.28" r="1.2"/><circle cx="393.38" cy="382.51" r="1.2"/><circle cx="394.96" cy="379.44" r="1.2"/><circle cx="396.83" cy="375.95" r="1.2"/><circle cx="398.79" cy="372.22" r="1.2"/><circle cx="400.48" cy="368.67" r="1.2"/><circle cx="385.3" cy="414.84" r="1.2"/><circle cx="387.62" cy="411.91" r="1.2"/><circle cx="390.33" cy="408.54" r="1.2"/><circle cx="393.18" cy="404.93" r="1.2"/><circle cx="394.25" cy="402.86" r="1.2"/><circle cx="356.67" cy="423.78" r="1.2"/><circle cx="358.98" cy="420.86" r="1.2"/><circle cx="361.71" cy="417.61" r="1.2"/><circle cx="364.58" cy="414.15" r="1.2"/><circle cx="362.88" cy="413.72" r="1.2"/><circle cx="316.92" cy="436.3" r="1.2"/><circle cx="320.02" cy="434.82" r="1.2"/><circle cx="323.61" cy="433.09" r="1.2"/><circle cx="327.41" cy="431.19" r="1.2"/><circle cx="331.3" cy="429.15" r="1.2"/><circle cx="335.19" cy="427" r="1.2"/><circle cx="339.05" cy="424.74" r="1.2"/><circle cx="332.8" cy="427.19" r="1.2"/><circle cx="346.77" cy="419.41" r="1.2"/><circle cx="363.4" cy="402.03" r="1.2"/><circle cx="377.74" cy="381.16" r="1.2"/><circle cx="400.26" cy="347.43" r="1.2"/><circle cx="401.21" cy="305.55" r="1.2"/><circle cx="403.21" cy="268" r="1.2"/><circle cx="394.21" cy="238.7" r="1.2"/><circle cx="362.51" cy="222.22" r="1.2"/><circle cx="280.71" cy="348.59" r="1.2"/><circle cx="274" cy="350.03" r="1.2"/><circle cx="275.69" cy="349.71" r="1.2"/><circle cx="278.03" cy="348.41" r="1.2"/><circle cx="280.5" cy="346.06" r="1.2"/><circle cx="279.86" cy="343.85" r="1.2"/><circle cx="258.16" cy="358.9" r="1.2"/><circle cx="259.98" cy="358.06" r="1.2"/><circle cx="262.08" cy="357.19" r="1.2"/><circle cx="264.29" cy="356.26" r="1.2"/><circle cx="266.54" cy="355.27" r="1.2"/><circle cx="270.38" cy="354.03" r="1.2"/><circle cx="252.73" cy="371.64" r="1.2"/><circle cx="253.32" cy="369.93" r="1.2"/><circle cx="243.77" cy="374.73" r="1.2"/><circle cx="252.17" cy="364.88" r="1.2"/><circle cx="224.02" cy="383.74" r="1.2"/><circle cx="226.74" cy="382.56" r="1.2"/><circle cx="229.78" cy="381.42" r="1.2"/><circle cx="232.95" cy="380.24" r="1.2"/><circle cx="236.06" cy="378.98" r="1.2"/><circle cx="212.38" cy="388.6" r="1.2"/><circle cx="215.07" cy="388.32" r="1.2"/><circle cx="237.63" cy="347" r="1.2"/><circle cx="253.4" cy="345.31" r="1.2"/><circle cx="265.84" cy="340.07" r="1.2"/><circle cx="224.87" cy="333.05" r="1.2"/><circle cx="208.95" cy="351.13" r="1.2"/><circle cx="207.93" cy="348.97" r="1.2"/><circle cx="211.28" cy="348.6" r="1.2"/><circle cx="204.56" cy="343.59" r="1.2"/><circle cx="212.23" cy="346.39" r="1.2"/><circle cx="193.37" cy="346.74" r="1.2"/><circle cx="191.75" cy="345.58" r="1.2"/><circle cx="189.89" cy="344.19" r="1.2"/><circle cx="193.61" cy="346.11" r="1.2"/><circle cx="185.52" cy="339.6" r="1.2"/><circle cx="190.72" cy="341.37" r="1.2"/><circle cx="188.35" cy="337.23" r="1.2"/><circle cx="182.56" cy="331.36" r="1.2"/><circle cx="196.92" cy="341.91" r="1.2"/><circle cx="180.25" cy="326.59" r="1.2"/><circle cx="174.32" cy="321.73" r="1.2"/><circle cx="177.31" cy="321.73" r="1.2"/><circle cx="180.76" cy="323.72" r="1.2"/><circle cx="189.46" cy="330.82" r="1.2"/><circle cx="201.74" cy="336.85" r="1.2"/><circle cx="170.59" cy="318.17" r="1.2"/><circle cx="171.3" cy="315.36" r="1.2"/><circle cx="161.1" cy="315.02" r="1.2"/><circle cx="161.66" cy="312.34" r="1.2"/><circle cx="151.8" cy="310.72" r="1.2"/><circle cx="152.04" cy="308.22" r="1.2"/><circle cx="141.73" cy="300.94" r="1.2"/><circle cx="146.07" cy="302.34" r="1.2"/><circle cx="152.57" cy="303.74" r="1.2"/><circle cx="161.15" cy="306.06" r="1.2"/><circle cx="173.08" cy="311.75" r="1.2"/><circle cx="159.47" cy="284.88" r="1.2"/><circle cx="160.11" cy="274.83" r="1.2"/><circle cx="164.36" cy="280.04" r="1.2"/><circle cx="156.26" cy="268.14" r="1.2"/><circle cx="157.82" cy="266.15" r="1.2"/><circle cx="153.3" cy="260.98" r="1.2"/><circle cx="152.18" cy="256" r="1.2"/><circle cx="154.33" cy="258.46" r="1.2"/><circle cx="164.53" cy="262.49" r="1.2"/><circle cx="164.03" cy="271.19" r="1.2"/><circle cx="168.57" cy="279.94" r="1.2"/><circle cx="157.31" cy="246.4" r="1.2"/><circle cx="158.26" cy="248.28" r="1.2"/><circle cx="159.39" cy="241.84" r="1.2"/><circle cx="160.98" cy="245.29" r="1.2"/><circle cx="162.31" cy="254.34" r="1.2"/><circle cx="155.36" cy="236.24" r="1.2"/><circle cx="155.94" cy="231.27" r="1.2"/><circle cx="157.38" cy="229.71" r="1.2"/><circle cx="157.5" cy="233.23" r="1.2"/><circle cx="160.01" cy="229.94" r="1.2"/><circle cx="159.09" cy="219.15" r="1.2"/><circle cx="160.47" cy="221.64" r="1.2"/><circle cx="161.02" cy="214.52" r="1.2"/><circle cx="164.03" cy="213.82" r="1.2"/><circle cx="163.47" cy="218.21" r="1.2"/><circle cx="162.63" cy="227.06" r="1.2"/><circle cx="156.95" cy="200.86" r="1.2"/><circle cx="157.39" cy="203.4" r="1.2"/><circle cx="161.17" cy="193.8" r="1.2"/><circle cx="160.97" cy="196.1" r="1.2"/><circle cx="160.78" cy="200.68" r="1.2"/><circle cx="165.06" cy="197.92" r="1.2"/><circle cx="161.48" cy="183.76" r="1.2"/><circle cx="165.05" cy="179.25" r="1.2"/><circle cx="163.31" cy="181.54" r="1.2"/><circle cx="166.63" cy="181.26" r="1.2"/><circle cx="167.19" cy="169.37" r="1.2"/><circle cx="169.94" cy="168.95" r="1.2"/><circle cx="174.48" cy="164.08" r="1.2"/><circle cx="173.23" cy="167.59" r="1.2"/><circle cx="172.71" cy="147.35" r="1.2"/><circle cx="178" cy="167" r="1.2"/><circle cx="175.03" cy="177.38" r="1.2"/><circle cx="180" cy="196.25" r="1.2"/><circle cx="200.64" cy="171.34" r="1.2"/><circle cx="202.63" cy="171.05" r="1.2"/><circle cx="204.85" cy="170.61" r="1.2"/><circle cx="207.64" cy="170.94" r="1.2"/><circle cx="210.71" cy="164.32" r="1.2"/><circle cx="212.92" cy="164.63" r="1.2"/><circle cx="215.5" cy="165.16" r="1.2"/><circle cx="220.24" cy="161.69" r="1.2"/><circle cx="222.58" cy="162.77" r="1.2"/><circle cx="227.61" cy="160.9" r="1.2"/><circle cx="225.42" cy="162.8" r="1.2"/><circle cx="232.21" cy="159.68" r="1.2"/><circle cx="236.93" cy="158.97" r="1.2"/><circle cx="234.99" cy="161.09" r="1.2"/><circle cx="243.68" cy="155.86" r="1.2"/><circle cx="242.01" cy="156.95" r="1.2"/><circle cx="244.84" cy="157.79" r="1.2"/><circle cx="219.71" cy="167.45" r="1.2"/><circle cx="200.13" cy="181.76" r="1.2"/><circle cx="181.99" cy="203.85" r="1.2"/><circle cx="171.71" cy="229.83" r="1.2"/><circle cx="171.51" cy="254.65" r="1.2"/><circle cx="183.72" cy="293.98" r="1.2"/><circle cx="203.93" cy="313.84" r="1.2"/><circle cx="217.04" cy="320.93" r="1.2"/><circle cx="244.64" cy="310.86" r="1.2"/><circle cx="292.58" cy="288.55" r="1.2"/><circle cx="296.07" cy="250.9" r="1.2"/></g><g fill="#8fbf8f"><circle cx="394.51" cy="187.62" r="1.2"/></g>
<g font-size="3.9" fill="#000">
<text x="259.59" y="44.71" dy="1.35" transform="rotate(-89.38 259.59 44.71)">NR_129772</text>
<text x="264.64" y="44.83" dy="1.35" transform="rotate(-88.01 264.64 44.83)">NR_116328</text>
<text x="269.69" y="45.06" dy="1.35" transform="rotate(-86.64 269.69 45.06)">NR_122337</text>
<text x="274.73" y="45.42" dy="1.35" transform="rotate(-85.27 274.73 45.42)">NR_117602</text>
<text x="279.77" y="45.9" dy="1.35" transform="rotate(-83.9 279.77 45.9)">ON615219</text>
<text x="284.79" y="46.5" dy="1.35" transform="rotate(-82.53 284.79 46.5)">NR_166838</text>
<text x="289.79" y="47.21" dy="1.35" transform="rotate(-81.15 289.79 47.21)">NR_141544</text>
<text x="294.78" y="48.05" dy="1.35" transform="rotate(-79.78 294.78 48.05)">NR_165642</text>
<text x="299.74" y="49.01" dy="1.35" transform="rotate(-78.41 299.74 49.01)">NR_126226</text>
<text x="304.68" y="50.08" dy="1.35" transform="rotate(-77.04 304.68 50.08)">ON615645</text>
<text x="309.59" y="51.27" dy="1.35" transform="rotate(-75.67 309.59 51.27)">OQ435583</text>
<text x="314.48" y="52.58" dy="1.35" transform="rotate(-74.3 314.48 52.58)">OQ435538</text>
<text x="319.33" y="54.01" dy="1.35" transform="rotate(-72.93 319.33 54.01)">NR_127455</text>
<text x="324.14" y="55.55" dy="1.35" transform="rotate(-71.56 324.14 55.55)">NR_128907</text>
<text x="328.92" y="57.21" dy="1.35" transform="rotate(-70.19 328.92 57.21)">OQ443549</text>
<text x="333.65" y="58.98" dy="1.35" transform="rotate(-68.82 333.65 58.98)">OQ435623</text>
<text x="338.35" y="60.86" dy="1.35" transform="rotate(-67.45 338.35 60.86)">OQ435657</text>
<text x="342.99" y="62.86" dy="1.35" transform="rotate(-66.07 342.99 62.86)">NR_118229</text>
<text x="347.59" y="64.96" dy="1.35" transform="rotate(-64.7 347.59 64.96)">OQ443536</text>
<text x="352.13" y="67.18" dy="1.35" transform="rotate(-63.33 352.13 67.18)">NR_094693</text>
<text x="356.62" y="69.5" dy="1.35" transform="rotate(-61.96 356.62 69.5)">NR_066175</text>
<text x="361.06" y="71.93" dy="1.35" transform="rotate(-60.59 361.06 71.93)">NR_084399</text>
<text x="365.43" y="74.46" dy="1.35" transform="rotate(-59.22 365.43 74.46)">NR_142561</text>
<text x="369.74" y="77.1" dy="1.35" transform="rotate(-57.85 369.74 77.1)">ON879431</text>
<text x="373.99" y="79.84" dy="1.35" transform="rotate(-56.48 373.99 79.84)">ON878167</text>
<text x="378.17" y="82.69" dy="1.35" transform="rotate(-55.11 378.17 82.69)">OQ443573</text>
<text x="382.28" y="85.63" dy="1.35" transform="rotate(-53.74 382.28 85.63)">ON615746</text>
<text x="386.32" y="88.67" dy="1.35" transform="rotate(-52.37 386.32 88.67)">NR_034594</text>
<text x="390.29" y="91.8" dy="1.35" transform="rotate(-50.99 390.29 91.8)">NR_164804</text>
<text x="394.18" y="95.03" dy="1.35" transform="rotate(-49.62 394.18 95.03)">NR_154833</text>
<text x="397.99" y="98.35" dy="1.35" transform="rotate(-48.25 397.99 98.35)">NR_174089</text>
<text x="401.72" y="101.76" dy="1.35" transform="rotate(-46.88 401.72 101.76)">NR_035173</text>
<text x="405.37" y="105.26" dy="1.35" transform="rotate(-45.51 405.37 105.26)">ON879173</text>
<text x="408.94" y="108.85" dy="1.35" transform="rotate(-44.14 408.94 108.85)">ON879675</text>
<text x="412.41" y="112.52" dy="1.35" transform="rotate(-42.77 412.41 112.52)">NR_155898</text>
<text x="415.8" y="116.27" dy="1.35" transform="rotate(-41.4 415.8 116.27)">OQ443568</text>
<text x="419.1" y="120.1" dy="1.35" transform="rotate(-40.03 419.1 120.1)">NR_122267</text>
<text x="422.3" y="124.01" dy="1.35" transform="rotate(-38.66 422.3 124.01)">ON615485</text>
<text x="425.42" y="128" dy="1.35" transform="rotate(-37.29 425.42 128)">OQ435517</text>
<text x="428.43" y="132.06" dy="1.35" transform="rotate(-35.91 428.43 132.06)">ON878634</text>
<text x="431.35" y="136.18" dy="1.35" transform="rotate(-34.54 431.35 136.18)">OQ448846</text>
<text x="434.16" y="140.38" dy="1.35" transform="rotate(-33.17 434.16 140.38)">ON879816</text>
<text x="436.88" y="144.65" dy="1.35" transform="rotate(-31.8 436.88 144.65)">OQ435569</text>
<text x="439.49" y="148.98" dy="1.35" transform="rotate(-30.43 439.49 148.98)">NR_125347</text>
<text x="442" y="153.36" dy="1.35" transform="rotate(-29.06 442 153.36)">NR_053600</text>
<text x="444.4" y="157.81" dy="1.35" transform="rotate(-27.69 444.4 157.81)">ON878264</text>
<text x="446.7" y="162.32" dy="1.35" transform="rotate(-26.32 446.7 162.32)">ON878814</text>
<text x="448.88" y="166.88" dy="1.35" transform="rotate(-24.95 448.88 166.88)">NR_175078</text>
<text x="450.96" y="171.48" dy="1.35" transform="rotate(-23.58 450.96 171.48)">NR_168875</text>
<text x="452.93" y="176.14" dy="1.35" transform="rotate(-22.21 452.93 176.14)">NR_146416</text>
<text x="454.78" y="180.85" dy="1.35" transform="rotate(-20.83 454.78 180.85)">ON615838</text>
<text x="456.52" y="185.59" dy="1.35" transform="rotate(-19.46 456.52 185.59)">NR_097118</text>
<text x="458.15" y="190.38" dy="1.35" transform="rotate(-18.09 458.15 190.38)">NR_164433</text>
<text x="459.66" y="195.2" dy="1.35" transform="rotate(-16.72 459.66 195.2)">MT982014</text>
<text x="461.06" y="200.06" dy="1.35" transform="rotate(-15.35 461.06 200.06)">OP957122</text>
<text x="462.34" y="204.95" dy="1.35" transform="rotate(-13.98 462.34 204.95)">NR_129830</text>
<text x="463.5" y="209.87" dy="1.35" transform="rotate(-12.61 463.5 209.87)">NR_140583</text>
<text x="464.55" y="214.82" dy="1.35" transform="rotate(-11.24 464.55 214.82)">NR_133900</text>
<text x="465.47" y="219.79" dy="1.35" transform="rotate(-9.87 465.47 219.79)">NR_110536</text>
<text x="466.28" y="224.78" dy="1.35" transform="rotate(-8.5 466.28 224.78)">NR_158398</text>
<text x="466.97" y="229.79" dy="1.35" transform="rotate(-7.13 466.97 229.79)">OQ448626</text>
<text x="467.53" y="234.81" dy="1.35" transform="rotate(-5.76 467.53 234.81)">OQ443589</text>
<text x="467.98" y="239.85" dy="1.35" transform="rotate(-4.38 467.98 239.85)">OQ435568</text>
<text x="468.31" y="244.89" dy="1.35" transform="rotate(-3.01 468.31 244.89)">ON615798</text>
<text x="468.51" y="249.94" dy="1.35" transform="rotate(-1.64 468.51 249.94)">MT982014</text>
<text x="468.6" y="255" dy="1.35" transform="rotate(-0.27 468.6 255)">NR_161658</text>
<text x="468.56" y="260.05" dy="1.35" transform="rotate(1.1 468.56 260.05)">NR_162486</text>
<text x="468.4" y="265.11" dy="1.35" transform="rotate(2.47 468.4 265.11)">NR_118827</text>
<text x="468.13" y="270.16" dy="1.35" transform="rotate(3.84 468.13 270.16)">MT982014</text>
<text x="467.73" y="275.2" dy="1.35" transform="rotate(5.21 467.73 275.2)">NR_154571</text>
<text x="467.21" y="280.22" dy="1.35" transform="rotate(6.58 467.21 280.22)">OQ435510</text>
<text x="466.57" y="285.24" dy="1.35" transform="rotate(7.95 466.57 285.24)">OQ443522</text>
<text x="465.81" y="290.24" dy="1.35" transform="rotate(9.32 465.81 290.24)">ON615628</text>
<text x="464.93" y="295.22" dy="1.35" transform="rotate(10.7 464.93 295.22)">NR_137256</text>
<text x="463.93" y="300.17" dy="1.35" transform="rotate(12.07 463.93 300.17)">OQ435691</text>
<text x="462.82" y="305.1" dy="1.35" transform="rotate(13.44 462.82 305.1)">NR_155533</text>
<text x="461.58" y="310.01" dy="1.35" transform="rotate(14.81 461.58 310.01)">OQ448825</text>
<text x="460.23" y="314.88" dy="1.35" transform="rotate(16.18 460.23 314.88)">NR_173972</text>
<text x="458.76" y="319.72" dy="1.35" transform="rotate(17.55 458.76 319.72)">MT982014</text>
<text x="457.18" y="324.52" dy="1.35" transform="rotate(18.92 457.18 324.52)">NR_065875</text>
<text x="455.49" y="329.28" dy="1.35" transform="rotate(20.29 455.49 329.28)">NR_123393</text>
<text x="453.68" y="334" dy="1.35" transform="rotate(21.66 453.68 334)">ON879516</text>
<text x="451.75" y="338.68" dy="1.35" transform="rotate(23.03 451.75 338.68)">NR_131160</text>
<text x="449.72" y="343.3" dy="1.35" transform="rotate(24.4 449.72 343.3)">NR_051897</text>
<text x="447.58" y="347.88" dy="1.35" transform="rotate(25.78 447.58 347.88)">OR036563</text>
<text x="445.32" y="352.41" dy="1.35" transform="rotate(27.15 445.32 352.41)">NR_113544</text>
<text x="442.96" y="356.88" dy="1.35" transform="rotate(28.52 442.96 356.88)">ON878610</text>
<text x="440.5" y="361.29" dy="1.35" transform="rotate(29.89 440.5 361.29)">CAKUSD01</text>
<text x="437.93" y="365.65" dy="1.35" transform="rotate(31.26 437.93 365.65)">OQ448676</text>
<text x="435.25" y="369.94" dy="1.35" transform="rotate(32.63 435.25 369.94)">NR_131894</text>
<text x="432.47" y="374.16" dy="1.35" transform="rotate(34 432.47 374.16)">NR_139201</text>
<text x="429.6" y="378.32" dy="1.35" transform="rotate(35.37 429.6 378.32)">OQ443552</text>
<text x="426.62" y="382.4" dy="1.35" transform="rotate(36.74 426.62 382.4)">OQ443534</text>
<text x="423.55" y="386.42" dy="1.35" transform="rotate(38.11 423.55 386.42)">ON879675</text>
<text x="420.38" y="390.36" dy="1.35" transform="rotate(39.48 420.38 390.36)">NR_139719</text>
<text x="417.12" y="394.22" dy="1.35" transform="rotate(40.86 417.12 394.22)">NR_174589</text>
<text x="413.77" y="398.01" dy="1.35" transform="rotate(42.23 413.77 398.01)">NR_113798</text>
<text x="410.32" y="401.71" dy="1.35" transform="rotate(43.6 410.32 401.71)">OR036563</text>
<text x="406.79" y="405.33" dy="1.35" transform="rotate(44.97 406.79 405.33)">NR_050381</text>
<text x="403.18" y="408.86" dy="1.35" transform="rotate(46.34 403.18 408.86)">OQ448667</text>
<text x="399.48" y="412.31" dy="1.35" transform="rotate(47.71 399.48 412.31)">ON879480</text>
<text x="395.7" y="415.67" dy="1.35" transform="rotate(49.08 395.7 415.67)">OR036563</text>
<text x="391.84" y="418.93" dy="1.35" transform="rotate(50.45 391.84 418.93)">NR_123389</text>
<text x="387.9" y="422.1" dy="1.35" transform="rotate(51.82 387.9 422.1)">NR_135782</text>
<text x="383.89" y="425.18" dy="1.35" transform="rotate(53.19 383.89 425.18)">NR_173262</text>
<text x="379.81" y="428.16" dy="1.35" transform="rotate(54.56 379.81 428.16)">OQ443510</text>
<text x="375.65" y="431.04" dy="1.35" transform="rotate(55.94 375.65 431.04)">NR_070089</text>
<text x="371.43" y="433.82" dy="1.35" transform="rotate(57.31 371.43 433.82)">ON878173</text>
<text x="367.15" y="436.5" dy="1.35" transform="rotate(58.68 367.15 436.5)">ON878245</text>
<text x="362.8" y="439.08" dy="1.35" transform="rotate(60.05 362.8 439.08)">ON615801</text>
<text x="358.39" y="441.55" dy="1.35" transform="rotate(61.42 358.39 441.55)">ON878408</text>
<text x="353.92" y="443.92" dy="1.35" transform="rotate(62.79 353.92 443.92)">NR_048399</text>
<text x="349.39" y="446.17" dy="1.35" transform="rotate(64.16 349.39 446.17)">NR_068583</text>
<text x="344.82" y="448.32" dy="1.35" transform="rotate(65.53 344.82 448.32)">NR_161883</text>
<text x="340.19" y="450.36" dy="1.35" transform="rotate(66.9 340.19 450.36)">NR_036130</text>
<text x="335.52" y="452.29" dy="1.35" transform="rotate(68.27 335.52 452.29)">ON878348</text>
<text x="330.8" y="454.1" dy="1.35" transform="rotate(69.64 330.8 454.1)">CAKUSD01</text>
<text x="326.04" y="455.81" dy="1.35" transform="rotate(71.02 326.04 455.81)">NR_170994</text>
<text x="321.24" y="457.39" dy="1.35" transform="rotate(72.39 321.24 457.39)">ON878299</text>
<text x="316.4" y="458.87" dy="1.35" transform="rotate(73.76 316.4 458.87)">OQ443570</text>
<text x="311.53" y="460.22" dy="1.35" transform="rotate(75.13 311.53 460.22)">OQ448629</text>
<text x="306.63" y="461.46" dy="1.35" transform="rotate(76.5 306.63 461.46)">OQ435612</text>
<text x="301.7" y="462.58" dy="1.35" transform="rotate(77.87 301.7 462.58)">NR_123470</text>
<text x="296.75" y="463.59" dy="1.35" transform="rotate(79.24 296.75 463.59)">OQ435665</text>
<text x="291.77" y="464.47" dy="1.35" transform="rotate(80.61 291.77 464.47)">OP957122</text>
<text x="286.77" y="465.23" dy="1.35" transform="rotate(81.98 286.77 465.23)">ON878432</text>
<text x="281.76" y="465.88" dy="1.35" transform="rotate(83.35 281.76 465.88)">NR_137889</text>
<text x="276.73" y="466.4" dy="1.35" transform="rotate(84.72 276.73 466.4)">NR_141527</text>
<text x="271.69" y="466.81" dy="1.35" transform="rotate(86.1 271.69 466.81)">ON878667</text>
<text x="266.64" y="467.09" dy="1.35" transform="rotate(87.47 266.64 467.09)">NR_164920</text>
<text x="261.59" y="467.26" dy="1.35" transform="rotate(88.84 261.59 467.26)">ON878124</text>
<text x="256.53" y="467.3" dy="1.35" text-anchor="end" transform="rotate(270.21 256.53 467.3)">ON615362</text>
<text x="251.48" y="467.22" dy="1.35" text-anchor="end" transform="rotate(271.58 251.48 467.22)">ON615678</text>
<text x="246.43" y="467.02" dy="1.35" text-anchor="end" transform="rotate(272.95 246.43 467.02)">OQ443563</text>
<text x="241.38" y="466.7" dy="1.35" text-anchor="end" transform="rotate(274.32 241.38 466.7)">ON879798</text>
<text x="236.34" y="466.26" dy="1.35" text-anchor="end" transform="rotate(275.69 236.34 466.26)">NR_094707</text>
<text x="231.32" y="465.7" dy="1.35" text-anchor="end" transform="rotate(277.06 231.32 465.7)">NR_176918</text>
<text x="226.31" y="465.02" dy="1.35" text-anchor="end" transform="rotate(278.43 226.31 465.02)">NR_167688</text>
<text x="221.32" y="464.21" dy="1.35" text-anchor="end" transform="rotate(279.8 221.32 464.21)">ON879246</text>
<text x="216.35" y="463.29" dy="1.35" text-anchor="end" transform="rotate(281.18 216.35 463.29)">NR_129634</text>
<text x="211.4" y="462.25" dy="1.35" text-anchor="end" transform="rotate(282.55 211.4 462.25)">NR_172061</text>
<text x="206.48" y="461.1" dy="1.35" text-anchor="end" transform="rotate(283.92 206.48 461.1)">OQ435581</text>
<text x="201.59" y="459.82" dy="1.35" text-anchor="end" transform="rotate(285.29 201.59 459.82)">NR_177941</text>
<text x="196.73" y="458.43" dy="1.35" text-anchor="end" transform="rotate(286.66 196.73 458.43)">OQ448823</text>
<text x="191.9" y="456.92" dy="1.35" text-anchor="end" transform="rotate(288.03 191.9 456.92)">ON615058</text>
<text x="187.11" y="455.3" dy="1.35" text-anchor="end" transform="rotate(289.4 187.11 455.3)">NR_146296</text>
<text x="182.36" y="453.57" dy="1.35" text-anchor="end" transform="rotate(290.77 182.36 453.57)">NR_122811</text>
<text x="177.66" y="451.72" dy="1.35" text-anchor="end" transform="rotate(292.14 177.66 451.72)">NR_098626</text>
<text x="173" y="449.76" dy="1.35" text-anchor="end" transform="rotate(293.51 173 449.76)">NR_118305</text>
<text x="168.39" y="447.68" dy="1.35" text-anchor="end" transform="rotate(294.88 168.39 447.68)">NR_091263</text>
<text x="163.83" y="445.5" dy="1.35" text-anchor="end" transform="rotate(296.25 163.83 445.5)">OQ435698</text>
<text x="159.32" y="443.21" dy="1.35" text-anchor="end" transform="rotate(297.63 159.32 443.21)">NR_176605</text>
<text x="154.87" y="440.81" dy="1.35" text-anchor="end" transform="rotate(299 154.87 440.81)">OQ448874</text>
<text x="150.48" y="438.31" dy="1.35" text-anchor="end" transform="rotate(300.37 150.48 438.31)">ON615715</text>
<text x="146.15" y="435.7" dy="1.35" text-anchor="end" transform="rotate(301.74 146.15 435.7)">OQ448681</text>
<text x="141.88" y="432.99" dy="1.35" text-anchor="end" transform="rotate(303.11 141.88 432.99)">ON615207</text>
<text x="137.68" y="430.18" dy="1.35" text-anchor="end" transform="rotate(304.48 137.68 430.18)">ON878280</text>
<text x="133.55" y="427.27" dy="1.35" text-anchor="end" transform="rotate(305.85 133.55 427.27)">NR_161427</text>
<text x="129.48" y="424.26" dy="1.35" text-anchor="end" transform="rotate(307.22 129.48 424.26)">NR_034508</text>
<text x="125.49" y="421.15" dy="1.35" text-anchor="end" transform="rotate(308.59 125.49 421.15)">OQ448819</text>
<text x="121.58" y="417.95" dy="1.35" text-anchor="end" transform="rotate(309.96 121.58 417.95)">NR_149685</text>
<text x="117.74" y="414.66" dy="1.35" text-anchor="end" transform="rotate(311.33 117.74 414.66)">ON879837</text>
<text x="113.99" y="411.27" dy="1.35" text-anchor="end" transform="rotate(312.71 113.99 411.27)">ON879924</text>
<text x="110.32" y="407.8" dy="1.35" text-anchor="end" transform="rotate(314.08 110.32 407.8)">ON879352</text>
<text x="106.73" y="404.24" dy="1.35" text-anchor="end" transform="rotate(315.45 106.73 404.24)">NR_143175</text>
<text x="103.22" y="400.6" dy="1.35" text-anchor="end" transform="rotate(316.82 103.22 400.6)">ON615990</text>
<text x="99.81" y="396.87" dy="1.35" text-anchor="end" transform="rotate(318.19 99.81 396.87)">NR_037337</text>
<text x="96.48" y="393.06" dy="1.35" text-anchor="end" transform="rotate(319.56 96.48 393.06)">NR_173866</text>
<text x="93.25" y="389.17" dy="1.35" text-anchor="end" transform="rotate(320.93 93.25 389.17)">NR_139322</text>
<text x="90.11" y="385.21" dy="1.35" text-anchor="end" transform="rotate(322.3 90.11 385.21)">NR_166560</text>
<text x="87.07" y="381.17" dy="1.35" text-anchor="end" transform="rotate(323.67 87.07 381.17)">MT982014</text>
<text x="84.12" y="377.06" dy="1.35" text-anchor="end" transform="rotate(325.04 84.12 377.06)">NR_135656</text>
<text x="81.27" y="372.89" dy="1.35" text-anchor="end" transform="rotate(326.41 81.27 372.89)">NR_122084</text>
<text x="78.53" y="368.64" dy="1.35" text-anchor="end" transform="rotate(327.79 78.53 368.64)">ON878039</text>
<text x="75.88" y="364.33" dy="1.35" text-anchor="end" transform="rotate(329.16 75.88 364.33)">NR_170118</text>
<text x="73.34" y="359.96" dy="1.35" text-anchor="end" transform="rotate(330.53 73.34 359.96)">NR_027370</text>
<text x="70.91" y="355.53" dy="1.35" text-anchor="end" transform="rotate(331.9 70.91 355.53)">NR_177821</text>
<text x="68.58" y="351.04" dy="1.35" text-anchor="end" transform="rotate(333.27 68.58 351.04)">OQ443518</text>
<text x="66.36" y="346.5" dy="1.35" text-anchor="end" transform="rotate(334.64 66.36 346.5)">NR_139957</text>
<text x="64.25" y="341.91" dy="1.35" text-anchor="end" transform="rotate(336.01 64.25 341.91)">CAKUSD01</text>
<text x="62.25" y="337.26" dy="1.35" text-anchor="end" transform="rotate(337.38 62.25 337.26)">NR_145641</text>
<text x="60.36" y="332.57" dy="1.35" text-anchor="end" transform="rotate(338.75 60.36 332.57)">NR_133796</text>
<text x="58.59" y="327.84" dy="1.35" text-anchor="end" transform="rotate(340.12 58.59 327.84)">NR_126981</text>
<text x="56.93" y="323.07" dy="1.35" text-anchor="end" transform="rotate(341.49 56.93 323.07)">ON879739</text>
<text x="55.38" y="318.25" dy="1.35" text-anchor="end" transform="rotate(342.87 55.38 318.25)">ON615838</text>
<text x="53.95" y="313.4" dy="1.35" text-anchor="end" transform="rotate(344.24 53.95 313.4)">ON615415</text>
<text x="52.63" y="308.52" dy="1.35" text-anchor="end" transform="rotate(345.61 52.63 308.52)">NR_177473</text>
<text x="51.43" y="303.61" dy="1.35" text-anchor="end" transform="rotate(346.98 51.43 303.61)">OQ448621</text>
<text x="50.35" y="298.67" dy="1.35" text-anchor="end" transform="rotate(348.35 50.35 298.67)">NR_134031</text>
<text x="49.39" y="293.71" dy="1.35" text-anchor="end" transform="rotate(349.72 49.39 293.71)">NR_034491</text>
<text x="48.55" y="288.72" dy="1.35" text-anchor="end" transform="rotate(351.09 48.55 288.72)">NR_112206</text>
<text x="47.83" y="283.72" dy="1.35" text-anchor="end" transform="rotate(352.46 47.83 283.72)">OQ448620</text>
<text x="47.22" y="278.7" dy="1.35" text-anchor="end" transform="rotate(353.83 47.22 278.7)">OQ435618</text>
<text x="46.74" y="273.67" dy="1.35" text-anchor="end" transform="rotate(355.2 46.74 273.67)">NR_125948</text>
<text x="46.38" y="268.62" dy="1.35" text-anchor="end" transform="rotate(356.57 46.38 268.62)">NR_069453</text>
<text x="46.14" y="263.58" dy="1.35" text-anchor="end" transform="rotate(357.95 46.14 263.58)">MT982014</text>
<text x="46.02" y="258.52" dy="1.35" text-anchor="end" transform="rotate(359.32 46.02 258.52)">ON615274</text>
<text x="46.02" y="253.47" dy="1.35" text-anchor="end" transform="rotate(360.69 46.02 253.47)">OQ435577</text>
<text x="46.14" y="248.41" dy="1.35" text-anchor="end" transform="rotate(362.06 46.14 248.41)">ON879921</text>
<text x="46.38" y="243.36" dy="1.35" text-anchor="end" transform="rotate(363.43 46.38 243.36)">NR_131161</text>
<text x="46.74" y="238.32" dy="1.35" text-anchor="end" transform="rotate(364.8 46.74 238.32)">NR_133743</text>
<text x="47.22" y="233.29" dy="1.35" text-anchor="end" transform="rotate(366.17 47.22 233.29)">NR_150893</text>
<text x="47.83" y="228.27" dy="1.35" text-anchor="end" transform="rotate(367.54 47.83 228.27)">OQ443536</text>
<text x="48.55" y="223.26" dy="1.35" text-anchor="end" transform="rotate(368.91 48.55 223.26)">NR_175547</text>
<text x="49.39" y="218.28" dy="1.35" text-anchor="end" transform="rotate(370.28 49.39 218.28)">OQ448654</text>
<text x="50.36" y="213.32" dy="1.35" text-anchor="end" transform="rotate(371.65 50.36 213.32)">ON878512</text>
<text x="51.44" y="208.38" dy="1.35" text-anchor="end" transform="rotate(373.03 51.44 208.38)">NR_112416</text>
<text x="52.63" y="203.47" dy="1.35" text-anchor="end" transform="rotate(374.4 52.63 203.47)">ON879128</text>
<text x="53.95" y="198.58" dy="1.35" text-anchor="end" transform="rotate(375.77 53.95 198.58)">MT982014</text>
<text x="55.38" y="193.73" dy="1.35" text-anchor="end" transform="rotate(377.14 55.38 193.73)">NR_168596</text>
<text x="56.93" y="188.92" dy="1.35" text-anchor="end" transform="rotate(378.51 56.93 188.92)">NR_166646</text>
<text x="58.59" y="184.15" dy="1.35" text-anchor="end" transform="rotate(379.88 58.59 184.15)">OQ443560</text>
<text x="60.37" y="179.41" dy="1.35" text-anchor="end" transform="rotate(381.25 60.37 179.41)">OR036563</text>
<text x="62.26" y="174.72" dy="1.35" text-anchor="end" transform="rotate(382.62 62.26 174.72)">OQ435653</text>
<text x="64.26" y="170.08" dy="1.35" text-anchor="end" transform="rotate(383.99 64.26 170.08)">NR_128313</text>
<text x="66.37" y="165.49" dy="1.35" text-anchor="end" transform="rotate(385.36 66.37 165.49)">NR_155554</text>
<text x="68.59" y="160.95" dy="1.35" text-anchor="end" transform="rotate(386.73 68.59 160.95)">OP957122</text>
<text x="70.92" y="156.46" dy="1.35" text-anchor="end" transform="rotate(388.11 70.92 156.46)">NR_143501</text>
<text x="73.35" y="152.03" dy="1.35" text-anchor="end" transform="rotate(389.48 73.35 152.03)">NR_032261</text>
<text x="75.89" y="147.66" dy="1.35" text-anchor="end" transform="rotate(390.85 75.89 147.66)">NR_159922</text>
<text x="78.53" y="143.35" dy="1.35" text-anchor="end" transform="rotate(392.22 78.53 143.35)">ON615686</text>
<text x="81.28" y="139.1" dy="1.35" text-anchor="end" transform="rotate(393.59 81.28 139.1)">OP957122</text>
<text x="84.13" y="134.92" dy="1.35" text-anchor="end" transform="rotate(394.96 84.13 134.92)">OQ435568</text>
<text x="87.07" y="130.82" dy="1.35" text-anchor="end" transform="rotate(396.33 87.07 130.82)">NR_145263</text>
<text x="90.12" y="126.78" dy="1.35" text-anchor="end" transform="rotate(397.7 90.12 126.78)">NR_059503</text>
<text x="93.26" y="122.82" dy="1.35" text-anchor="end" transform="rotate(399.07 93.26 122.82)">NR_153113</text>
<text x="96.49" y="118.93" dy="1.35" text-anchor="end" transform="rotate(400.44 96.49 118.93)">OR036563</text>
<text x="99.82" y="115.12" dy="1.35" text-anchor="end" transform="rotate(401.81 99.82 115.12)">NR_150573</text>
<text x="103.23" y="111.39" dy="1.35" text-anchor="end" transform="rotate(403.19 103.23 111.39)">NR_133980</text>
<text x="106.74" y="107.75" dy="1.35" text-anchor="end" transform="rotate(404.56 106.74 107.75)">NR_160020</text>
<text x="110.33" y="104.19" dy="1.35" text-anchor="end" transform="rotate(405.93 110.33 104.19)">NR_146559</text>
<text x="114" y="100.72" dy="1.35" text-anchor="end" transform="rotate(407.3 114 100.72)">NR_051342</text>
<text x="117.76" y="97.33" dy="1.35" text-anchor="end" transform="rotate(408.67 117.76 97.33)">NR_110648</text>
<text x="121.59" y="94.04" dy="1.35" text-anchor="end" transform="rotate(410.04 121.59 94.04)">NR_121764</text>
<text x="125.5" y="90.84" dy="1.35" text-anchor="end" transform="rotate(411.41 125.5 90.84)">NR_115461</text>
<text x="129.49" y="87.73" dy="1.35" text-anchor="end" transform="rotate(412.78 129.49 87.73)">NR_149275</text>
<text x="133.56" y="84.72" dy="1.35" text-anchor="end" transform="rotate(414.15 133.56 84.72)">NR_140514</text>
<text x="137.69" y="81.81" dy="1.35" text-anchor="end" transform="rotate(415.52 137.69 81.81)">NR_179361</text>
<text x="141.89" y="79" dy="1.35" text-anchor="end" transform="rotate(416.89 141.89 79)">ON878317</text>
<text x="146.16" y="76.29" dy="1.35" text-anchor="end" transform="rotate(418.27 146.16 76.29)">OQ443559</text>
<text x="150.49" y="73.68" dy="1.35" text-anchor="end" transform="rotate(419.64 150.49 73.68)">ON879475</text>
<text x="154.88" y="71.18" dy="1.35" text-anchor="end" transform="rotate(421.01 154.88 71.18)">OP957122</text>
<text x="159.33" y="68.78" dy="1.35" text-anchor="end" transform="rotate(422.38 159.33 68.78)">NR_128972</text>
<text x="163.84" y="66.49" dy="1.35" text-anchor="end" transform="rotate(423.75 163.84 66.49)">NR_177237</text>
<text x="168.4" y="64.31" dy="1.35" text-anchor="end" transform="rotate(425.12 168.4 64.31)">OQ443527</text>
<text x="173.01" y="62.24" dy="1.35" text-anchor="end" transform="rotate(426.49 173.01 62.24)">ON615770</text>
<text x="177.67" y="60.28" dy="1.35" text-anchor="end" transform="rotate(427.86 177.67 60.28)">NR_027107</text>
<text x="182.38" y="58.43" dy="1.35" text-anchor="end" transform="rotate(429.23 182.38 58.43)">ON879196</text>
<text x="187.13" y="56.69" dy="1.35" text-anchor="end" transform="rotate(430.6 187.13 56.69)">ON879456</text>
<text x="191.91" y="55.07" dy="1.35" text-anchor="end" transform="rotate(431.97 191.91 55.07)">OQ435620</text>
<text x="196.74" y="53.56" dy="1.35" text-anchor="end" transform="rotate(433.35 196.74 53.56)">NR_127444</text>
<text x="201.6" y="52.17" dy="1.35" text-anchor="end" transform="rotate(434.72 201.6 52.17)">OQ435558</text>
<text x="206.49" y="50.9" dy="1.35" text-anchor="end" transform="rotate(436.09 206.49 50.9)">ON879143</text>
<text x="211.41" y="49.74" dy="1.35" text-anchor="end" transform="rotate(437.46 211.41 49.74)">NR_112469</text>
<text x="216.36" y="48.7" dy="1.35" text-anchor="end" transform="rotate(438.83 216.36 48.7)">OQ435672</text>
<text x="221.33" y="47.78" dy="1.35" text-anchor="end" transform="rotate(440.2 221.33 47.78)">NR_169893</text>
<text x="226.32" y="46.98" dy="1.35" text-anchor="end" transform="rotate(441.57 226.32 46.98)">ON879532</text>
<text x="231.33" y="46.3" dy="1.35" text-anchor="end" transform="rotate(442.94 231.33 46.3)">ON615919</text>
<text x="236.36" y="45.74" dy="1.35" text-anchor="end" transform="rotate(444.31 236.36 45.74)">OQ443518</text>
</g>
<path fill="#f5873a" d="M259.93,12.9 260.81,14.99 263.07,15.18 261.36,16.67 261.87,18.87 259.93,17.7 257.99,18.87 258.5,16.67 256.79,15.18 259.05,14.99ZM271.42,13.3 272.3,15.39 274.55,15.58 272.84,17.07 273.36,19.27 271.42,18.1 269.48,19.27 269.99,17.07 268.28,15.58 270.53,15.39ZM322.33,21.85 323.21,23.94 325.47,24.13 323.75,25.61 324.27,27.82 322.33,26.65 320.39,27.82 320.9,25.61 319.19,24.13 321.45,23.94ZM408.51,66.43 409.39,68.52 411.65,68.71 409.94,70.2 410.45,72.4 408.51,71.23 406.57,72.4 407.08,70.2 405.37,68.71 407.63,68.52ZM412.93,70.1 413.81,72.19 416.07,72.38 414.36,73.87 414.87,76.07 412.93,74.9 410.99,76.07 411.51,73.87 409.79,72.38 412.05,72.19ZM429.71,85.81 430.59,87.9 432.84,88.09 431.13,89.57 431.65,91.78 429.71,90.61 427.77,91.78 428.28,89.57 426.57,88.09 428.82,87.9ZM458.38,121.66 459.26,123.75 461.52,123.94 459.81,125.42 460.32,127.63 458.38,126.46 456.44,127.63 456.96,125.42 455.24,123.94 457.5,123.75ZM461.47,126.51 462.35,128.59 464.61,128.79 462.9,130.27 463.41,132.48 461.47,131.31 459.53,132.48 460.04,130.27 458.33,128.79 460.59,128.59ZM470.02,141.47 470.9,143.56 473.16,143.75 471.45,145.24 471.96,147.44 470.02,146.27 468.08,147.44 468.6,145.24 466.88,143.75 469.14,143.56ZM496.32,229 497.2,231.09 499.46,231.28 497.75,232.77 498.26,234.97 496.32,233.8 494.38,234.97 494.89,232.77 493.18,231.28 495.44,231.09ZM496.83,234.73 497.71,236.81 499.97,237.01 498.25,238.49 498.77,240.7 496.83,239.53 494.89,240.7 495.4,238.49 493.69,237.01 495.95,236.81ZM497.2,240.46 498.08,242.55 500.34,242.74 498.62,244.23 499.14,246.43 497.2,245.26 495.26,246.43 495.77,244.23 494.06,242.74 496.32,242.55ZM497.43,246.21 498.31,248.29 500.57,248.49 498.86,249.97 499.37,252.18 497.43,251.01 495.49,252.18 496,249.97 494.29,248.49 496.55,248.29ZM497.53,251.95 498.41,254.04 500.67,254.23 498.95,255.72 499.47,257.92 497.53,256.75 495.59,257.92 496.1,255.72 494.39,254.23 496.65,254.04ZM497.49,257.7 498.37,259.79 500.62,259.98 498.91,261.46 499.43,263.67 497.49,262.5 495.55,263.67 496.06,261.46 494.35,259.98 496.6,259.79ZM495.22,286.33 496.1,288.41 498.36,288.61 496.65,290.09 497.16,292.3 495.22,291.13 493.28,292.3 493.79,290.09 492.08,288.61 494.34,288.41ZM490.95,308.91 491.84,311 494.09,311.19 492.38,312.67 492.89,314.88 490.95,313.71 489.01,314.88 489.53,312.67 487.82,311.19 490.07,311ZM489.55,314.48 490.43,316.57 492.69,316.76 490.98,318.25 491.49,320.45 489.55,319.28 487.61,320.45 488.13,318.25 486.41,316.76 488.67,316.57ZM488.02,320.02 488.9,322.11 491.16,322.3 489.44,323.78 489.96,325.99 488.02,324.82 486.08,325.99 486.59,323.78 484.88,322.3 487.14,322.11ZM486.35,325.52 487.23,327.61 489.49,327.8 487.78,329.28 488.29,331.49 486.35,330.32 484.41,331.49 484.92,329.28 483.21,327.8 485.47,327.61ZM484.55,330.98 485.43,333.07 487.69,333.26 485.98,334.74 486.49,336.95 484.55,335.78 482.61,336.95 483.12,334.74 481.41,333.26 483.67,333.07ZM482.62,336.39 483.5,338.48 485.76,338.67 484.05,340.16 484.56,342.36 482.62,341.19 480.68,342.36 481.2,340.16 479.48,338.67 481.74,338.48ZM476.07,352.34 476.95,354.42 479.21,354.62 477.49,356.1 478.01,358.31 476.07,357.14 474.13,358.31 474.64,356.1 472.93,354.62 475.19,354.42ZM456.46,387.41 457.34,389.5 459.6,389.69 457.89,391.18 458.4,393.38 456.46,392.21 454.52,393.38 455.04,391.18 453.32,389.69 455.58,389.5ZM453.19,392.14 454.07,394.22 456.33,394.42 454.62,395.9 455.13,398.11 453.19,396.94 451.25,398.11 451.77,395.9 450.05,394.42 452.31,394.22ZM435.2,414.52 436.08,416.61 438.34,416.8 436.62,418.28 437.14,420.49 435.2,419.32 433.26,420.49 433.77,418.28 432.06,416.8 434.32,416.61ZM431.28,418.73 432.17,420.81 434.42,421.01 432.71,422.49 433.22,424.7 431.28,423.53 429.34,424.7 429.86,422.49 428.15,421.01 430.4,420.81ZM423.16,426.86 424.04,428.95 426.3,429.14 424.59,430.62 425.1,432.83 423.16,431.66 421.22,432.83 421.73,430.62 420.02,429.14 422.28,428.95ZM418.96,430.78 419.84,432.86 422.1,433.06 420.38,434.54 420.9,436.75 418.96,435.58 417.02,436.75 417.53,434.54 415.82,433.06 418.07,432.86ZM387.07,455.24 387.96,457.32 390.21,457.52 388.5,459 389.01,461.2 387.07,460.04 385.13,461.2 385.65,459 383.94,457.52 386.19,457.32ZM382.2,458.28 383.08,460.37 385.34,460.56 383.63,462.04 384.14,464.25 382.2,463.08 380.26,464.25 380.77,462.04 379.06,460.56 381.32,460.37ZM346.25,476.23 347.13,478.31 349.38,478.51 347.67,479.99 348.19,482.2 346.25,481.03 344.31,482.2 344.82,479.99 343.11,478.51 345.36,478.31ZM340.88,478.29 341.76,480.38 344.02,480.57 342.31,482.05 342.82,484.26 340.88,483.09 338.94,484.26 339.46,482.05 337.74,480.57 340,480.38ZM335.47,480.22 336.35,482.31 338.61,482.5 336.9,483.99 337.41,486.19 335.47,485.02 333.53,486.19 334.04,483.99 332.33,482.5 334.59,482.31ZM330.01,482.03 330.9,484.12 333.15,484.31 331.44,485.79 331.95,488 330.01,486.83 328.07,488 328.59,485.79 326.88,484.31 329.13,484.12ZM318.98,485.24 319.86,487.33 322.12,487.52 320.41,489.01 320.92,491.21 318.98,490.04 317.04,491.21 317.55,489.01 315.84,487.52 318.1,487.33ZM313.41,486.65 314.29,488.74 316.55,488.93 314.83,490.42 315.35,492.62 313.41,491.45 311.47,492.62 311.98,490.42 310.27,488.93 312.53,488.74ZM290.83,490.94 291.71,493.03 293.97,493.22 292.26,494.71 292.77,496.91 290.83,495.74 288.89,496.91 289.41,494.71 287.69,493.22 289.95,493.03ZM262.21,493.24 263.09,495.33 265.34,495.52 263.63,497 264.14,499.21 262.21,498.04 260.27,499.21 260.78,497 259.07,495.52 261.32,495.33ZM233.51,492.11 234.39,494.19 236.65,494.39 234.94,495.87 235.45,498.08 233.51,496.91 231.57,498.08 232.08,495.87 230.37,494.39 232.63,494.19ZM210.78,488.74 211.66,490.82 213.92,491.02 212.2,492.5 212.72,494.71 210.78,493.54 208.84,494.71 209.35,492.5 207.64,491.02 209.9,490.82ZM188.47,483.21 189.35,485.3 191.61,485.49 189.9,486.97 190.41,489.18 188.47,488.01 186.53,489.18 187.05,486.97 185.33,485.49 187.59,485.3ZM156.26,470.99 157.14,473.08 159.4,473.27 157.68,474.75 158.2,476.96 156.26,475.79 154.32,476.96 154.83,474.75 153.12,473.27 155.38,473.08ZM116.65,447.78 117.53,449.87 119.79,450.06 118.08,451.55 118.59,453.75 116.65,452.58 114.71,453.75 115.22,451.55 113.51,450.06 115.77,449.87ZM112.03,444.36 112.91,446.45 115.17,446.64 113.46,448.12 113.97,450.33 112.03,449.16 110.09,450.33 110.6,448.12 108.89,446.64 111.15,446.45ZM107.5,440.83 108.38,442.92 110.64,443.11 108.92,444.59 109.44,446.8 107.5,445.63 105.56,446.8 106.07,444.59 104.36,443.11 106.62,442.92ZM103.05,437.19 103.93,439.28 106.19,439.47 104.47,440.95 104.99,443.16 103.05,441.99 101.11,443.16 101.62,440.95 99.91,439.47 102.17,439.28ZM98.69,433.45 99.57,435.53 101.83,435.73 100.11,437.21 100.63,439.42 98.69,438.25 96.75,439.42 97.26,437.21 95.55,435.73 97.81,435.53ZM82.18,417.46 83.06,419.55 85.32,419.74 83.61,421.23 84.12,423.43 82.18,422.26 80.24,423.43 80.75,421.23 79.04,419.74 81.3,419.55ZM60.46,390.71 61.35,392.8 63.6,392.99 61.89,394.48 62.4,396.68 60.46,395.51 58.52,396.68 59.04,394.48 57.33,392.99 59.58,392.8ZM51.1,376.24 51.98,378.33 54.24,378.52 52.53,380 53.04,382.21 51.1,381.04 49.16,382.21 49.67,380 47.96,378.52 50.22,378.33ZM48.21,371.27 49.1,373.36 51.35,373.55 49.64,375.03 50.15,377.24 48.21,376.07 46.27,377.24 46.79,375.03 45.08,373.55 47.33,373.36ZM45.45,366.23 46.33,368.32 48.58,368.51 46.87,370 47.39,372.2 45.45,371.03 43.51,372.2 44.02,370 42.31,368.51 44.56,368.32ZM42.8,361.13 43.68,363.22 45.94,363.41 44.23,364.89 44.74,367.1 42.8,365.93 40.86,367.1 41.37,364.89 39.66,363.41 41.92,363.22ZM40.28,355.97 41.16,358.05 43.42,358.25 41.7,359.73 42.22,361.94 40.28,360.77 38.34,361.94 38.85,359.73 37.14,358.25 39.39,358.05ZM37.88,350.75 38.76,352.83 41.02,353.03 39.3,354.51 39.82,356.72 37.88,355.55 35.94,356.72 36.45,354.51 34.74,353.03 37,352.83ZM35.6,345.47 36.49,347.55 38.74,347.75 37.03,349.23 37.54,351.44 35.6,350.27 33.66,351.44 34.18,349.23 32.47,347.75 34.72,347.55ZM33.46,340.14 34.34,342.22 36.6,342.42 34.88,343.9 35.4,346.11 33.46,344.94 31.52,346.11 32.03,343.9 30.32,342.42 32.58,342.22ZM31.44,334.76 32.32,336.84 34.58,337.04 32.87,338.52 33.38,340.73 31.44,339.56 29.5,340.73 30.01,338.52 28.3,337.04 30.56,336.84ZM17.97,273.17 18.85,275.26 21.11,275.45 19.4,276.94 19.91,279.14 17.97,277.97 16.03,279.14 16.54,276.94 14.83,275.45 17.09,275.26ZM17.56,267.44 18.44,269.53 20.7,269.72 18.99,271.21 19.5,273.41 17.56,272.24 15.62,273.41 16.13,271.21 14.42,269.72 16.68,269.53ZM17.28,261.7 18.17,263.79 20.42,263.98 18.71,265.46 19.22,267.67 17.28,266.5 15.34,267.67 15.86,265.46 14.15,263.98 16.4,263.79ZM18.52,227.27 19.4,229.36 21.66,229.55 19.95,231.03 20.46,233.24 18.52,232.07 16.58,233.24 17.1,231.03 15.38,229.55 17.64,229.36ZM19.21,221.56 20.09,223.65 22.35,223.84 20.63,225.33 21.15,227.53 19.21,226.36 17.27,227.53 17.78,225.33 16.07,223.84 18.33,223.65ZM20.03,215.88 20.91,217.96 23.17,218.16 21.46,219.64 21.97,221.85 20.03,220.68 18.09,221.85 18.6,219.64 16.89,218.16 19.15,217.96ZM20.99,210.21 21.87,212.3 24.13,212.49 22.42,213.97 22.93,216.18 20.99,215.01 19.05,216.18 19.56,213.97 17.85,212.49 20.11,212.3ZM22.08,204.57 22.96,206.65 25.22,206.85 23.51,208.33 24.02,210.54 22.08,209.37 20.14,210.54 20.66,208.33 18.94,206.85 21.2,206.65ZM42.81,145.03 43.69,147.12 45.95,147.32 44.23,148.8 44.75,151 42.81,149.83 40.87,151 41.38,148.8 39.67,147.32 41.93,147.12ZM60.47,115.46 61.35,117.54 63.61,117.74 61.9,119.22 62.41,121.42 60.47,120.26 58.53,121.42 59.05,119.22 57.33,117.74 59.59,117.54ZM70.85,101.69 71.73,103.78 73.99,103.97 72.28,105.45 72.79,107.66 70.85,106.49 68.91,107.66 69.42,105.45 67.71,103.97 69.97,103.78ZM74.53,97.27 75.41,99.36 77.66,99.55 75.95,101.04 76.47,103.24 74.53,102.07 72.59,103.24 73.1,101.04 71.39,99.55 73.64,99.36ZM94.43,76.57 95.31,78.66 97.57,78.85 95.86,80.33 96.37,82.54 94.43,81.37 92.49,82.54 93,80.33 91.29,78.85 93.55,78.66ZM98.7,72.72 99.58,74.81 101.84,75 100.13,76.49 100.64,78.69 98.7,77.52 96.76,78.69 97.27,76.49 95.56,75 97.82,74.81ZM103.06,68.98 103.94,71.07 106.2,71.26 104.49,72.74 105,74.95 103.06,73.78 101.12,74.95 101.63,72.74 99.92,71.26 102.18,71.07ZM107.51,65.34 108.39,67.43 110.65,67.62 108.94,69.1 109.45,71.31 107.51,70.14 105.57,71.31 106.08,69.1 104.37,67.62 106.63,67.43ZM151.09,37.66 151.97,39.75 154.23,39.94 152.51,41.43 153.03,43.63 151.09,42.46 149.15,43.63 149.66,41.43 147.95,39.94 150.21,39.75ZM156.27,35.18 157.15,37.27 159.41,37.46 157.7,38.95 158.21,41.15 156.27,39.98 154.33,41.15 154.85,38.95 153.13,37.46 155.39,37.27ZM177.56,26.52 178.44,28.61 180.7,28.8 178.98,30.29 179.5,32.49 177.56,31.32 175.62,32.49 176.13,30.29 174.42,28.8 176.68,28.61ZM216.44,16.4 217.33,18.48 219.58,18.68 217.87,20.16 218.38,22.37 216.44,21.2 214.5,22.37 215.02,20.16 213.31,18.68 215.56,18.48ZM222.12,15.48 223,17.57 225.26,17.77 223.54,19.25 224.06,21.45 222.12,20.28 220.18,21.45 220.69,19.25 218.98,17.77 221.24,17.57ZM227.81,14.71 228.69,16.8 230.95,16.99 229.24,18.47 229.75,20.68 227.81,19.51 225.87,20.68 226.39,18.47 224.67,16.99 226.93,16.8ZM233.52,14.07 234.41,16.16 236.66,16.35 234.95,17.84 235.46,20.04 233.52,18.87 231.58,20.04 232.1,17.84 230.39,16.35 232.64,16.16Z"/>
<path fill="#e8449a" d="M359.97,35.92 360.85,38.01 363.11,38.2 361.39,39.69 361.91,41.89 359.97,40.72 358.03,41.89 358.54,39.69 356.83,38.2 359.09,38.01ZM365.13,38.44 366.01,40.53 368.27,40.72 366.56,42.2 367.07,44.41 365.13,43.24 363.19,44.41 363.71,42.2 361.99,40.72 364.25,40.53ZM370.24,41.08 371.12,43.17 373.38,43.36 371.66,44.84 372.18,47.05 370.24,45.88 368.3,47.05 368.81,44.84 367.1,43.36 369.36,43.17ZM375.28,43.84 376.16,45.93 378.42,46.12 376.7,47.61 377.22,49.81 375.28,48.64 373.34,49.81 373.85,47.61 372.14,46.12 374.4,45.93ZM380.25,46.72 381.13,48.81 383.39,49 381.68,50.49 382.19,52.69 380.25,51.52 378.31,52.69 378.82,50.49 377.11,49 379.37,48.81ZM385.15,49.72 386.03,51.81 388.29,52 386.58,53.49 387.09,55.69 385.15,54.52 383.21,55.69 383.73,53.49 382.01,52 384.27,51.81ZM487.37,183.98 488.25,186.06 490.51,186.26 488.8,187.74 489.31,189.95 487.37,188.78 485.43,189.95 485.95,187.74 484.23,186.26 486.49,186.06ZM488.96,189.5 489.84,191.59 492.1,191.78 490.39,193.26 490.9,195.47 488.96,194.3 487.02,195.47 487.53,193.26 485.82,191.78 488.08,191.59ZM490.41,195.06 491.3,197.15 493.55,197.34 491.84,198.82 492.35,201.03 490.41,199.86 488.48,201.03 488.99,198.82 487.28,197.34 489.53,197.15ZM496.99,269.18 497.87,271.27 500.13,271.46 498.42,272.94 498.93,275.15 496.99,273.98 495.05,275.15 495.56,272.94 493.85,271.46 496.11,271.27ZM27.79,323.86 28.67,325.94 30.93,326.14 29.22,327.62 29.73,329.83 27.79,328.66 25.85,329.83 26.36,327.62 24.65,326.14 26.91,325.94ZM23.31,307.21 24.19,309.3 26.45,309.49 24.73,310.98 25.25,313.18 23.31,312.01 21.37,313.18 21.88,310.98 20.17,309.49 22.43,309.3ZM22.08,301.6 22.96,303.68 25.22,303.88 23.51,305.36 24.02,307.57 22.08,306.4 20.14,307.57 20.65,305.36 18.94,303.88 21.2,303.68ZM23.31,198.95 24.19,201.04 26.45,201.23 24.74,202.72 25.25,204.92 23.31,203.75 21.37,204.92 21.88,202.72 20.17,201.23 22.43,201.04ZM24.67,193.37 25.55,195.46 27.81,195.65 26.1,197.13 26.61,199.34 24.67,198.17 22.73,199.34 23.25,197.13 21.53,195.65 23.79,195.46ZM26.17,187.82 27.05,189.91 29.31,190.1 27.59,191.58 28.11,193.79 26.17,192.62 24.23,193.79 24.74,191.58 23.03,190.1 25.29,189.91Z"/>
<path fill="#a8e85a" d="M172.15,477.68 173.03,479.76 175.28,479.96 173.57,481.44 174.09,483.65 172.15,482.48 170.21,483.65 170.72,481.44 169.01,479.96 171.26,479.76Z"/>
<g fill="#6a3fb0"><circle cx="259.68" cy="2.67" r="2.3"/><circle cx="416.73" cy="59.26" r="2.3"/><circle cx="421.41" cy="63.14" r="2.3"/><circle cx="439.14" cy="79.74" r="2.3"/><circle cx="292.34" cy="507.98" r="2.3"/><circle cx="262.08" cy="510.41" r="2.3"/><circle cx="231.75" cy="509.21" r="2.3"/><circle cx="207.72" cy="505.65" r="2.3"/><circle cx="30.17" cy="142.34" r="2.3"/><circle cx="144.63" cy="28.85" r="2.3"/><circle cx="150.11" cy="26.22" r="2.3"/></g>
<g fill="#16ad76"><circle cx="271.82" cy="3.1" r="2.3"/><circle cx="325.64" cy="12.13" r="2.3"/><circle cx="365.42" cy="27.01" r="2.3"/><circle cx="370.88" cy="29.67" r="2.3"/><circle cx="376.28" cy="32.46" r="2.3"/><circle cx="381.6" cy="35.38" r="2.3"/><circle cx="386.86" cy="38.42" r="2.3"/><circle cx="392.04" cy="41.6" r="2.3"/><circle cx="481.75" cy="138.58" r="2.3"/><circle cx="500.09" cy="183.5" r="2.3"/><circle cx="501.77" cy="189.34" r="2.3"/><circle cx="503.31" cy="195.22" r="2.3"/><circle cx="509.55" cy="231.1" r="2.3"/><circle cx="510.09" cy="237.15" r="2.3"/><circle cx="510.48" cy="243.21" r="2.3"/><circle cx="510.73" cy="249.28" r="2.3"/><circle cx="510.83" cy="255.36" r="2.3"/><circle cx="510.78" cy="261.43" r="2.3"/><circle cx="510.26" cy="273.57" r="2.3"/><circle cx="508.39" cy="291.69" r="2.3"/><circle cx="503.88" cy="315.56" r="2.3"/><circle cx="502.4" cy="321.45" r="2.3"/><circle cx="500.77" cy="327.31" r="2.3"/><circle cx="499.01" cy="333.12" r="2.3"/><circle cx="497.11" cy="338.89" r="2.3"/><circle cx="495.07" cy="344.61" r="2.3"/><circle cx="488.14" cy="361.47" r="2.3"/><circle cx="467.42" cy="398.54" r="2.3"/><circle cx="463.96" cy="403.54" r="2.3"/><circle cx="444.94" cy="427.2" r="2.3"/><circle cx="440.81" cy="431.65" r="2.3"/><circle cx="394.07" cy="470.23" r="2.3"/><circle cx="388.92" cy="473.45" r="2.3"/><circle cx="322.1" cy="501.95" r="2.3"/><circle cx="316.21" cy="503.44" r="2.3"/><circle cx="184.14" cy="499.8" r="2.3"/><circle cx="166.89" cy="493.96" r="2.3"/><circle cx="150.09" cy="486.89" r="2.3"/><circle cx="108.22" cy="462.36" r="2.3"/><circle cx="103.34" cy="458.74" r="2.3"/><circle cx="98.55" cy="455.01" r="2.3"/><circle cx="93.85" cy="451.16" r="2.3"/><circle cx="89.24" cy="447.2" r="2.3"/><circle cx="71.79" cy="430.31" r="2.3"/><circle cx="48.84" cy="402.03" r="2.3"/><circle cx="38.94" cy="386.73" r="2.3"/><circle cx="35.89" cy="381.48" r="2.3"/><circle cx="32.96" cy="376.16" r="2.3"/><circle cx="30.16" cy="370.76" r="2.3"/><circle cx="27.5" cy="365.31" r="2.3"/><circle cx="24.96" cy="359.79" r="2.3"/><circle cx="22.56" cy="354.21" r="2.3"/><circle cx="20.29" cy="348.57" r="2.3"/><circle cx="18.15" cy="342.88" r="2.3"/><circle cx="14.3" cy="331.36" r="2.3"/><circle cx="9.56" cy="313.77" r="2.3"/><circle cx="8.26" cy="307.83" r="2.3"/><circle cx="9.56" cy="199.34" r="2.3"/><circle cx="11" cy="193.43" r="2.3"/><circle cx="12.58" cy="187.57" r="2.3"/><circle cx="48.85" cy="111.07" r="2.3"/><circle cx="59.81" cy="96.53" r="2.3"/><circle cx="63.7" cy="91.86" r="2.3"/><circle cx="84.74" cy="69.97" r="2.3"/><circle cx="89.25" cy="65.91" r="2.3"/><circle cx="93.86" cy="61.95" r="2.3"/><circle cx="98.56" cy="58.1" r="2.3"/><circle cx="172.61" cy="17.07" r="2.3"/></g>
<g fill="#d75ff0"><circle cx="469.45" cy="117.63" r="2.3"/><circle cx="472.71" cy="122.76" r="2.3"/><circle cx="432.22" cy="440.24" r="2.3"/><circle cx="427.78" cy="444.38" r="2.3"/><circle cx="350.92" cy="492.42" r="2.3"/><circle cx="345.25" cy="494.6" r="2.3"/><circle cx="339.53" cy="496.65" r="2.3"/><circle cx="333.76" cy="498.56" r="2.3"/><circle cx="3.92" cy="277.79" r="2.3"/><circle cx="3.48" cy="271.73" r="2.3"/><circle cx="3.19" cy="265.66" r="2.3"/><circle cx="4.5" cy="229.27" r="2.3"/><circle cx="5.23" cy="223.24" r="2.3"/><circle cx="6.1" cy="217.22" r="2.3"/><circle cx="7.11" cy="211.23" r="2.3"/><circle cx="8.26" cy="205.27" r="2.3"/><circle cx="213.71" cy="6.37" r="2.3"/><circle cx="219.71" cy="5.4" r="2.3"/><circle cx="225.73" cy="4.58" r="2.3"/><circle cx="231.77" cy="3.91" r="2.3"/></g>
<g fill="#222" font-size="10.7">
<text x="204.3" y="275">Tree scale</text>
<text x="263.8" y="271" font-size="10.2">0.1</text>
</g>
<line x1="260.4" y1="274.5" x2="280.8" y2="274.5" stroke="#222" stroke-width="1"/>
<path fill="#e8449a" d="M569.6,70.9 571.3,74.95 575.69,75.32 572.36,78.2 573.36,82.48 569.6,80.2 565.84,82.48 566.84,78.2 563.51,75.32 567.9,74.95Z"/>
<text x="585.7" y="81.6" font-size="10.3" fill="#1a1a1a">Novel genus</text>
<path fill="#f5873a" d="M569.6,87.2 571.3,91.25 575.69,91.62 572.36,94.5 573.36,98.78 569.6,96.5 565.84,98.78 566.84,94.5 563.51,91.62 567.9,91.25Z"/>
<text x="585.7" y="97.9" font-size="10.3" fill="#1a1a1a">Novel species</text>
<path fill="#a8e85a" d="M569.6,103.3 571.3,107.35 575.69,107.72 572.36,110.6 573.36,114.88 569.6,112.6 565.84,114.88 566.84,110.6 563.51,107.72 567.9,107.35Z"/>
<text x="585.7" y="114" font-size="10.3" fill="#1a1a1a">Novel family</text>
<text x="561.8" y="142.2" font-size="10.45" fill="#1a1a1a">Isolation method</text>
<circle cx="571.4" cy="158.1" r="4.6" fill="#16ad76"/>
<text x="587" y="162" font-size="10.3" fill="#1a1a1a">SCM</text>
<circle cx="571.4" cy="172.6" r="4.6" fill="#6a3fb0"/>
<text x="587" y="176.5" font-size="10.3" fill="#1a1a1a">TC</text>
<circle cx="571.4" cy="186.9" r="4.6" fill="#d75ff0"/>
<text x="587" y="190.8" font-size="10.3" fill="#1a1a1a">Both</text>
<text x="563.1" y="214.4" font-size="10.8" fill="#1a1a1a">Taxonomy</text>
<rect x="561.6" y="220.9" width="16.5" height="16.4" rx="1.5" fill="#7fc97f"/>
<text x="582.3" y="232.05" font-size="10.3" fill="#1a1a1a">Bacillota</text>
<rect x="561.6" y="240.45" width="16.5" height="16.4" rx="1.5" fill="#fb8072"/>
<text x="582.3" y="251.6" font-size="10.3" fill="#1a1a1a">Alphaproteobacteria</text>
<rect x="561.6" y="260" width="16.5" height="16.4" rx="1.5" fill="#ffffb3"/>
<text x="582.3" y="271.15" font-size="10.3" fill="#1a1a1a">Bacteroidota</text>
<rect x="561.6" y="279.55" width="16.5" height="16.4" rx="1.5" fill="#bc80bd"/>
<text x="582.3" y="290.7" font-size="10.3" fill="#1a1a1a">Gammaproteobacteria</text>
<rect x="561.6" y="299.1" width="16.5" height="16.4" rx="1.5" fill="#fdc086"/>
<text x="582.3" y="310.25" font-size="10.3" fill="#1a1a1a">Actinomycetota</text>
<rect x="561.6" y="318.65" width="16.5" height="16.4" rx="1.5" fill="#386cb0"/>
<text x="582.3" y="329.8" font-size="10.3" fill="#1a1a1a">Balneolota</text>
<rect x="561.6" y="338.2" width="16.5" height="16.4" rx="1.5" fill="#fd4868"/>
<text x="582.3" y="349.35" font-size="10.3" fill="#1a1a1a">Betaproteobacteria</text>
<text x="563.8" y="391.5" font-size="11.1" fill="#1a1a1a">Bootstrap values</text>
<circle cx="567.5" cy="401.3" r="4.05" fill="#17b88a"/>
<text x="574.2" y="404.8" font-size="10.3" fill="#1a1a1a">&gt;90%</text>
<circle cx="567.5" cy="417.6" r="4.05" fill="#8fbf8f"/>
<text x="574.2" y="421.1" font-size="10.3" fill="#1a1a1a">70-90%</text>
</svg>
</body></html>
